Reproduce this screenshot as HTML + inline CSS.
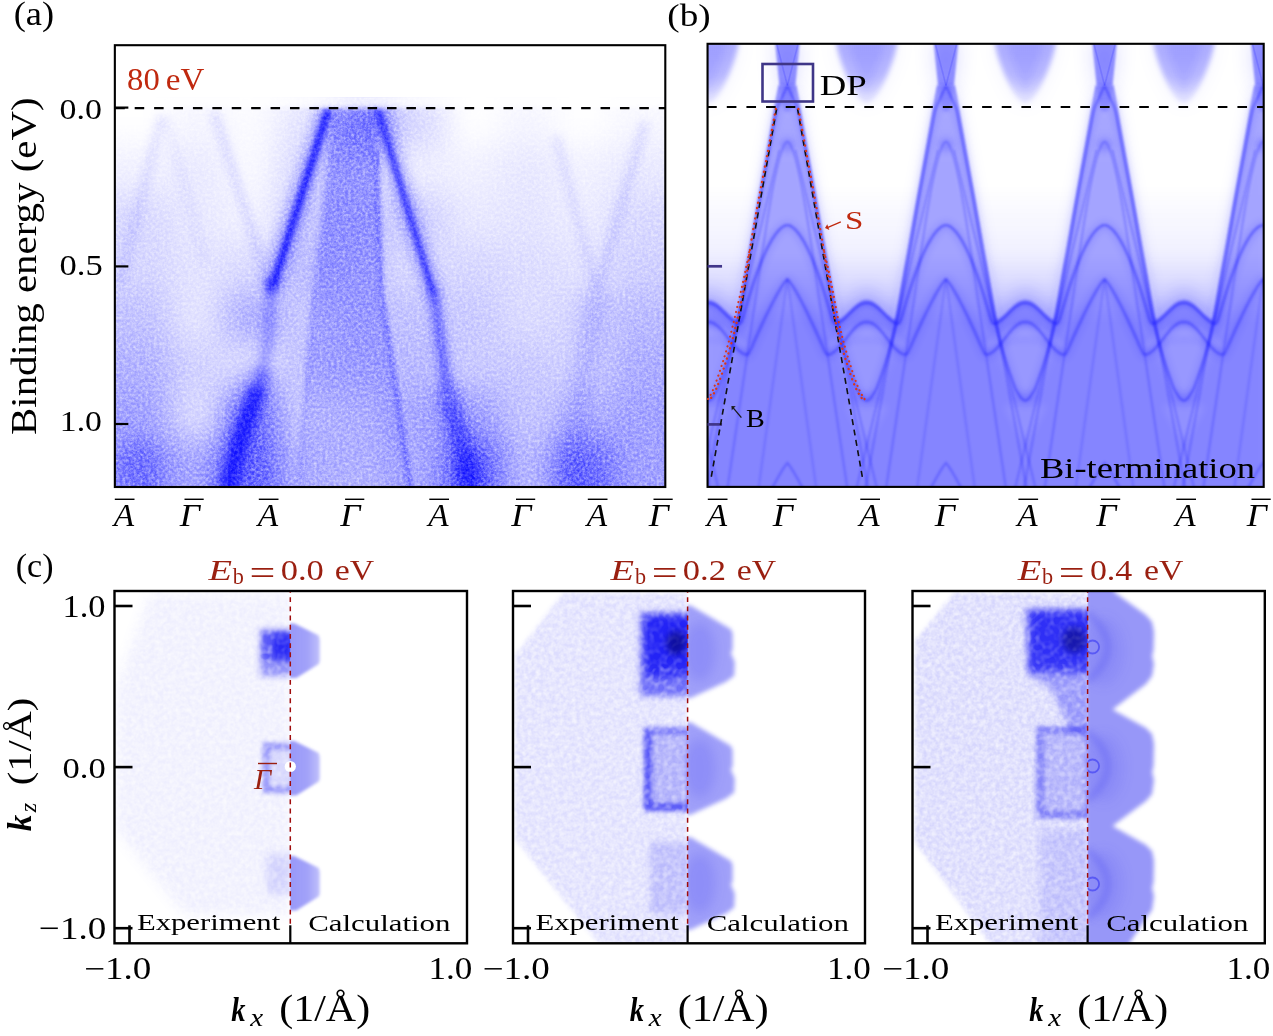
<!DOCTYPE html>
<html><head><meta charset="utf-8"><title>ARPES figure</title>
<style>html,body{margin:0;padding:0;background:#fff;overflow:hidden}svg{display:block}</style>
</head><body><svg width="1273" height="1036" viewBox="0 0 1273 1036" style="font-family:'Liberation Serif', 'DejaVu Serif', serif"><defs><filter id="bl0_5" filterUnits="userSpaceOnUse" x="-50" y="-50" width="1400" height="1150" color-interpolation-filters="sRGB"><feGaussianBlur stdDeviation="0.5"/></filter><filter id="bl1" filterUnits="userSpaceOnUse" x="-50" y="-50" width="1400" height="1150" color-interpolation-filters="sRGB"><feGaussianBlur stdDeviation="1"/></filter><filter id="bl1_5" filterUnits="userSpaceOnUse" x="-50" y="-50" width="1400" height="1150" color-interpolation-filters="sRGB"><feGaussianBlur stdDeviation="1.5"/></filter><filter id="bl2" filterUnits="userSpaceOnUse" x="-50" y="-50" width="1400" height="1150" color-interpolation-filters="sRGB"><feGaussianBlur stdDeviation="2"/></filter><filter id="bl2_5" filterUnits="userSpaceOnUse" x="-50" y="-50" width="1400" height="1150" color-interpolation-filters="sRGB"><feGaussianBlur stdDeviation="2.5"/></filter><filter id="bl3" filterUnits="userSpaceOnUse" x="-50" y="-50" width="1400" height="1150" color-interpolation-filters="sRGB"><feGaussianBlur stdDeviation="3"/></filter><filter id="bl4" filterUnits="userSpaceOnUse" x="-50" y="-50" width="1400" height="1150" color-interpolation-filters="sRGB"><feGaussianBlur stdDeviation="4"/></filter><filter id="bl5" filterUnits="userSpaceOnUse" x="-50" y="-50" width="1400" height="1150" color-interpolation-filters="sRGB"><feGaussianBlur stdDeviation="5"/></filter><filter id="bl6" filterUnits="userSpaceOnUse" x="-50" y="-50" width="1400" height="1150" color-interpolation-filters="sRGB"><feGaussianBlur stdDeviation="6"/></filter><filter id="bl7" filterUnits="userSpaceOnUse" x="-50" y="-50" width="1400" height="1150" color-interpolation-filters="sRGB"><feGaussianBlur stdDeviation="7"/></filter><filter id="bl8" filterUnits="userSpaceOnUse" x="-50" y="-50" width="1400" height="1150" color-interpolation-filters="sRGB"><feGaussianBlur stdDeviation="8"/></filter><filter id="bl10" filterUnits="userSpaceOnUse" x="-50" y="-50" width="1400" height="1150" color-interpolation-filters="sRGB"><feGaussianBlur stdDeviation="10"/></filter><filter id="bl12" filterUnits="userSpaceOnUse" x="-50" y="-50" width="1400" height="1150" color-interpolation-filters="sRGB"><feGaussianBlur stdDeviation="12"/></filter><filter id="bl15" filterUnits="userSpaceOnUse" x="-50" y="-50" width="1400" height="1150" color-interpolation-filters="sRGB"><feGaussianBlur stdDeviation="15"/></filter><filter id="bl16" filterUnits="userSpaceOnUse" x="-50" y="-50" width="1400" height="1150" color-interpolation-filters="sRGB"><feGaussianBlur stdDeviation="16"/></filter><filter id="bl20" filterUnits="userSpaceOnUse" x="-50" y="-50" width="1400" height="1150" color-interpolation-filters="sRGB"><feGaussianBlur stdDeviation="20"/></filter><filter id="bl25" filterUnits="userSpaceOnUse" x="-50" y="-50" width="1400" height="1150" color-interpolation-filters="sRGB"><feGaussianBlur stdDeviation="25"/></filter><linearGradient id="gBlob" x1="0" y1="0" x2="0" y2="1"><stop offset="0" stop-color="#1414ff" stop-opacity="0.34"/><stop offset="0.55" stop-color="#1414ff" stop-opacity="0.27"/><stop offset="1" stop-color="#1414ff" stop-opacity="0.08"/></linearGradient><linearGradient id="gHaze" gradientUnits="userSpaceOnUse" x1="0" y1="185" x2="0" y2="318"><stop offset="0" stop-color="#1414ff" stop-opacity="0"/><stop offset="0.5" stop-color="#1414ff" stop-opacity="0.06"/><stop offset="1" stop-color="#1414ff" stop-opacity="0.26"/></linearGradient><linearGradient id="gLamW" gradientUnits="userSpaceOnUse" x1="0" y1="85" x2="0" y2="325"><stop offset="0" stop-color="#fff" stop-opacity="0.27"/><stop offset="0.7" stop-color="#fff" stop-opacity="0.25"/><stop offset="1" stop-color="#fff" stop-opacity="0"/></linearGradient><clipPath id="clipB"><rect x="707.55" y="43.8" width="556.1500000000001" height="443.09999999999997"/></clipPath><clipPath id="clipA"><rect x="114.85" y="45.2" width="550.4499999999999" height="441.8"/></clipPath><linearGradient id="gCol" x1="0" y1="0" x2="0" y2="1" gradientUnits="objectBoundingBox"><stop offset="0" stop-color="#0000ff" stop-opacity="0.26"/><stop offset="0.12" stop-color="#0000ff" stop-opacity="0.42"/><stop offset="0.45" stop-color="#0000ff" stop-opacity="0.30"/><stop offset="1" stop-color="#0000ff" stop-opacity="0.10"/></linearGradient><filter id="noiseA" filterUnits="userSpaceOnUse" x="100" y="90" width="580" height="410" color-interpolation-filters="sRGB"><feTurbulence type="fractalNoise" baseFrequency="0.35" numOctaves="3" seed="11" result="t"/><feGaussianBlur stdDeviation="0.75"/><feColorMatrix type="matrix" values="0 0 0 0 1  0 0 0 0 1  0 0 0 0 1  0.9 0 0 0 -0.31"/></filter><filter id="noiseA2" filterUnits="userSpaceOnUse" x="100" y="90" width="580" height="410" color-interpolation-filters="sRGB"><feTurbulence type="fractalNoise" baseFrequency="0.35" numOctaves="3" seed="23" result="t"/><feGaussianBlur stdDeviation="0.75"/><feColorMatrix type="matrix" values="0 0 0 0 1  0 0 0 0 1  0 0 0 0 1  0.45 0 0 0 -0.16"/></filter><clipPath id="clipAD"><rect x="114.85" y="97.5" width="550.4499999999999" height="389.5"/></clipPath><linearGradient id="gC1" x1="0" y1="0" x2="1" y2="0"><stop offset="0" stop-color="#3030f2" stop-opacity="0.50"/><stop offset="0.6" stop-color="#3030f2" stop-opacity="0.45"/><stop offset="1" stop-color="#3030f2" stop-opacity="0.30"/></linearGradient><clipPath id="clipC1L"><rect x="114.5" y="591.0" width="175.8" height="352.29999999999995"/></clipPath><clipPath id="clipC1R"><rect x="290.3" y="591.0" width="176.7" height="352.29999999999995"/></clipPath><clipPath id="clipC2L"><rect x="513.0" y="591.0" width="174.60000000000002" height="352.29999999999995"/></clipPath><clipPath id="clipC2R"><rect x="687.6" y="591.0" width="177.39999999999998" height="352.29999999999995"/></clipPath><clipPath id="clipC3L"><rect x="912.5" y="591.0" width="175.0999999999999" height="352.29999999999995"/></clipPath><clipPath id="clipC3R"><rect x="1087.6" y="591.0" width="177.20000000000005" height="352.29999999999995"/></clipPath><filter id="noiseC" filterUnits="userSpaceOnUse" x="100" y="580" width="1180" height="380" color-interpolation-filters="sRGB"><feTurbulence type="fractalNoise" baseFrequency="0.25" numOctaves="2" seed="5" result="t"/><feGaussianBlur stdDeviation="0.6"/><feColorMatrix type="matrix" values="0 0 0 0 1  0 0 0 0 1  0 0 0 0 1  1.0 0 0 0 -0.30"/></filter><filter id="noiseC2" filterUnits="userSpaceOnUse" x="100" y="580" width="1180" height="380" color-interpolation-filters="sRGB"><feTurbulence type="fractalNoise" baseFrequency="0.22" numOctaves="2" seed="9" result="t"/><feGaussianBlur stdDeviation="0.8"/><feColorMatrix type="matrix" values="0 0 0 0 1  0 0 0 0 1  0 0 0 0 1  1.4 0 0 0 -0.62"/></filter></defs><rect width="1273" height="1036" fill="#fff"/><g clip-path="url(#clipAD)"><g filter="url(#bl16)"><rect x="55" y="97" width="115" height="49" fill="#0000ff" fill-opacity="0.000"/><rect x="170" y="97" width="55" height="49" fill="#0000ff" fill-opacity="0.052"/><rect x="225" y="97" width="55" height="49" fill="#0000ff" fill-opacity="0.018"/><rect x="280" y="97" width="55" height="49" fill="#0000ff" fill-opacity="0.140"/><rect x="335" y="97" width="55" height="49" fill="#0000ff" fill-opacity="0.552"/><rect x="390" y="97" width="55" height="49" fill="#0000ff" fill-opacity="0.192"/><rect x="445" y="97" width="55" height="49" fill="#0000ff" fill-opacity="0.000"/><rect x="500" y="97" width="55" height="49" fill="#0000ff" fill-opacity="0.052"/><rect x="555" y="97" width="55" height="49" fill="#0000ff" fill-opacity="0.001"/><rect x="610" y="97" width="115" height="49" fill="#0000ff" fill-opacity="0.039"/><rect x="55" y="146" width="115" height="49" fill="#0000ff" fill-opacity="0.072"/><rect x="170" y="146" width="55" height="49" fill="#0000ff" fill-opacity="0.103"/><rect x="225" y="146" width="55" height="49" fill="#0000ff" fill-opacity="0.030"/><rect x="280" y="146" width="55" height="49" fill="#0000ff" fill-opacity="0.200"/><rect x="335" y="146" width="55" height="49" fill="#0000ff" fill-opacity="0.172"/><rect x="390" y="146" width="55" height="49" fill="#0000ff" fill-opacity="0.082"/><rect x="445" y="146" width="55" height="49" fill="#0000ff" fill-opacity="0.069"/><rect x="500" y="146" width="55" height="49" fill="#0000ff" fill-opacity="0.114"/><rect x="555" y="146" width="55" height="49" fill="#0000ff" fill-opacity="0.068"/><rect x="610" y="146" width="115" height="49" fill="#0000ff" fill-opacity="0.107"/><rect x="55" y="195" width="115" height="49" fill="#0000ff" fill-opacity="0.189"/><rect x="170" y="195" width="55" height="49" fill="#0000ff" fill-opacity="0.111"/><rect x="225" y="195" width="55" height="49" fill="#0000ff" fill-opacity="0.064"/><rect x="280" y="195" width="55" height="49" fill="#0000ff" fill-opacity="0.269"/><rect x="335" y="195" width="55" height="49" fill="#0000ff" fill-opacity="0.277"/><rect x="390" y="195" width="55" height="49" fill="#0000ff" fill-opacity="0.241"/><rect x="445" y="195" width="55" height="49" fill="#0000ff" fill-opacity="0.108"/><rect x="500" y="195" width="55" height="49" fill="#0000ff" fill-opacity="0.128"/><rect x="555" y="195" width="55" height="49" fill="#0000ff" fill-opacity="0.092"/><rect x="610" y="195" width="115" height="49" fill="#0000ff" fill-opacity="0.183"/><rect x="55" y="244" width="115" height="49" fill="#0000ff" fill-opacity="0.200"/><rect x="170" y="244" width="55" height="49" fill="#0000ff" fill-opacity="0.139"/><rect x="225" y="244" width="55" height="49" fill="#0000ff" fill-opacity="0.182"/><rect x="280" y="244" width="55" height="49" fill="#0000ff" fill-opacity="0.336"/><rect x="335" y="244" width="55" height="49" fill="#0000ff" fill-opacity="0.292"/><rect x="390" y="244" width="55" height="49" fill="#0000ff" fill-opacity="0.171"/><rect x="445" y="244" width="55" height="49" fill="#0000ff" fill-opacity="0.195"/><rect x="500" y="244" width="55" height="49" fill="#0000ff" fill-opacity="0.166"/><rect x="555" y="244" width="55" height="49" fill="#0000ff" fill-opacity="0.140"/><rect x="610" y="244" width="115" height="49" fill="#0000ff" fill-opacity="0.226"/><rect x="55" y="293" width="115" height="49" fill="#0000ff" fill-opacity="0.296"/><rect x="170" y="293" width="55" height="49" fill="#0000ff" fill-opacity="0.125"/><rect x="225" y="293" width="55" height="49" fill="#0000ff" fill-opacity="0.407"/><rect x="280" y="293" width="55" height="49" fill="#0000ff" fill-opacity="0.260"/><rect x="335" y="293" width="55" height="49" fill="#0000ff" fill-opacity="0.320"/><rect x="390" y="293" width="55" height="49" fill="#0000ff" fill-opacity="0.295"/><rect x="445" y="293" width="55" height="49" fill="#0000ff" fill-opacity="0.258"/><rect x="500" y="293" width="55" height="49" fill="#0000ff" fill-opacity="0.168"/><rect x="555" y="293" width="55" height="49" fill="#0000ff" fill-opacity="0.213"/><rect x="610" y="293" width="115" height="49" fill="#0000ff" fill-opacity="0.328"/><rect x="55" y="342" width="115" height="49" fill="#0000ff" fill-opacity="0.367"/><rect x="170" y="342" width="55" height="49" fill="#0000ff" fill-opacity="0.224"/><rect x="225" y="342" width="55" height="49" fill="#0000ff" fill-opacity="0.154"/><rect x="280" y="342" width="55" height="49" fill="#0000ff" fill-opacity="0.302"/><rect x="335" y="342" width="55" height="49" fill="#0000ff" fill-opacity="0.340"/><rect x="390" y="342" width="55" height="49" fill="#0000ff" fill-opacity="0.343"/><rect x="445" y="342" width="55" height="49" fill="#0000ff" fill-opacity="0.256"/><rect x="500" y="342" width="55" height="49" fill="#0000ff" fill-opacity="0.258"/><rect x="555" y="342" width="55" height="49" fill="#0000ff" fill-opacity="0.211"/><rect x="610" y="342" width="115" height="49" fill="#0000ff" fill-opacity="0.395"/><rect x="55" y="391" width="115" height="49" fill="#0000ff" fill-opacity="0.453"/><rect x="170" y="391" width="55" height="49" fill="#0000ff" fill-opacity="0.168"/><rect x="225" y="391" width="55" height="49" fill="#0000ff" fill-opacity="0.660"/><rect x="280" y="391" width="55" height="49" fill="#0000ff" fill-opacity="0.236"/><rect x="335" y="391" width="55" height="49" fill="#0000ff" fill-opacity="0.265"/><rect x="390" y="391" width="55" height="49" fill="#0000ff" fill-opacity="0.443"/><rect x="445" y="391" width="55" height="49" fill="#0000ff" fill-opacity="0.465"/><rect x="500" y="391" width="55" height="49" fill="#0000ff" fill-opacity="0.277"/><rect x="555" y="391" width="55" height="49" fill="#0000ff" fill-opacity="0.362"/><rect x="610" y="391" width="115" height="49" fill="#0000ff" fill-opacity="0.450"/><rect x="55" y="440" width="115" height="109" fill="#0000ff" fill-opacity="0.540"/><rect x="170" y="440" width="55" height="109" fill="#0000ff" fill-opacity="0.438"/><rect x="225" y="440" width="55" height="109" fill="#0000ff" fill-opacity="0.763"/><rect x="280" y="440" width="55" height="109" fill="#0000ff" fill-opacity="0.323"/><rect x="335" y="440" width="55" height="109" fill="#0000ff" fill-opacity="0.292"/><rect x="390" y="440" width="55" height="109" fill="#0000ff" fill-opacity="0.410"/><rect x="445" y="440" width="55" height="109" fill="#0000ff" fill-opacity="0.811"/><rect x="500" y="440" width="55" height="109" fill="#0000ff" fill-opacity="0.343"/><rect x="555" y="440" width="55" height="109" fill="#0000ff" fill-opacity="0.754"/><rect x="610" y="440" width="115" height="109" fill="#0000ff" fill-opacity="0.460"/></g><ellipse cx="140.0" cy="470.0" rx="22" ry="30" fill="#0000ff" fill-opacity="0.3" filter="url(#bl8)"/><path d="M333,109 L376,109 L381,293 L411,492 L297,492 L313,293 Z" fill="url(#gCol)" filter="url(#bl3)"/><path d="M376.0,150.0 L381.0,293.0 L396.0,391.0 L411.0,492.0" fill="none" stroke="#0000ff" stroke-opacity="0.42" stroke-width="5" stroke-linejoin="round" filter="url(#bl2)"/><path d="M314.0,290.0 L306.0,391.0 L298.0,492.0" fill="none" stroke="#0000ff" stroke-opacity="0.14" stroke-width="4" stroke-linejoin="round" filter="url(#bl2)"/><line x1="214.0" y1="112.0" x2="269.0" y2="286.0" stroke="#0000ff" stroke-opacity="0.13" stroke-width="9" stroke-linecap="butt" filter="url(#bl4)"/><line x1="162.0" y1="116.0" x2="119.0" y2="285.0" stroke="#0000ff" stroke-opacity="0.1" stroke-width="10" stroke-linecap="butt" filter="url(#bl4)"/><line x1="166.0" y1="118.0" x2="205.0" y2="262.0" stroke="#0000ff" stroke-opacity="0.05" stroke-width="10" stroke-linecap="butt" filter="url(#bl5)"/><line x1="645.0" y1="122.0" x2="598.0" y2="290.0" stroke="#0000ff" stroke-opacity="0.13" stroke-width="9" stroke-linecap="butt" filter="url(#bl4)"/><line x1="556.0" y1="136.0" x2="596.0" y2="290.0" stroke="#0000ff" stroke-opacity="0.1" stroke-width="9" stroke-linecap="butt" filter="url(#bl4)"/><line x1="597.0" y1="292.0" x2="566.0" y2="492.0" stroke="#0000ff" stroke-opacity="0.18" stroke-width="24" stroke-linecap="butt" filter="url(#bl8)"/><line x1="328.0" y1="110.0" x2="272.0" y2="289.0" stroke="#0000ff" stroke-opacity="0.3" stroke-width="22" stroke-linecap="butt" filter="url(#bl5)"/><line x1="378.0" y1="110.0" x2="434.0" y2="297.0" stroke="#0000ff" stroke-opacity="0.26" stroke-width="22" stroke-linecap="butt" filter="url(#bl5)"/><path d="M262.0,370.0 L240.0,440.0 L225.0,492.0" fill="none" stroke="#0000ff" stroke-opacity="0.25" stroke-width="34" stroke-linejoin="round" filter="url(#bl8)"/><path d="M434.0,297.0 L440.0,340.0 L447.0,391.0" fill="none" stroke="#0000ff" stroke-opacity="0.3" stroke-width="14" stroke-linejoin="round" filter="url(#bl4)"/><path d="M446.0,388.0 L460.0,440.0 L472.0,492.0" fill="none" stroke="#0000ff" stroke-opacity="0.4" stroke-width="24" stroke-linejoin="round" filter="url(#bl6)"/><rect x="114.85" y="97.5" width="550.4499999999999" height="389.5" fill="#fff" filter="url(#noiseA)"/><line x1="328.5" y1="109.0" x2="273.0" y2="286.0" stroke="#0000ff" stroke-opacity="0.88" stroke-width="7.5" stroke-linecap="butt" filter="url(#bl2_5)"/><line x1="377.5" y1="109.0" x2="433.0" y2="293.0" stroke="#0000ff" stroke-opacity="0.75" stroke-width="6.5" stroke-linecap="butt" filter="url(#bl2_5)"/><ellipse cx="271.0" cy="287.0" rx="6" ry="9" fill="#0000ff" fill-opacity="0.6" filter="url(#bl3)"/><ellipse cx="434.0" cy="296.0" rx="5" ry="8" fill="#0000ff" fill-opacity="0.45" filter="url(#bl3)"/><path d="M271.0,292.0 L268.0,340.0 L262.0,375.0" fill="none" stroke="#0000ff" stroke-opacity="0.28" stroke-width="12" stroke-linejoin="round" filter="url(#bl4)"/><path d="M264.0,372.0 L257.0,392.0" fill="none" stroke="#0000ff" stroke-opacity="0.4" stroke-width="14" stroke-linejoin="round" filter="url(#bl4)"/><path d="M258.0,388.0 L240.0,440.0 L227.0,492.0" fill="none" stroke="#0000ff" stroke-opacity="0.8" stroke-width="17" stroke-linejoin="round" filter="url(#bl4)"/><path d="M435.0,300.0 L440.0,340.0 L448.0,395.0" fill="none" stroke="#0000ff" stroke-opacity="0.32" stroke-width="8" stroke-linejoin="round" filter="url(#bl3)"/><path d="M448.0,400.0 L462.0,445.0 L472.0,492.0" fill="none" stroke="#0000ff" stroke-opacity="0.35" stroke-width="13" stroke-linejoin="round" filter="url(#bl4)"/><ellipse cx="468.0" cy="472.0" rx="11" ry="18" fill="#0000ff" fill-opacity="0.4" filter="url(#bl6)"/><rect x="114.85" y="97.5" width="550.4499999999999" height="389.5" fill="#fff" filter="url(#noiseA2)"/><rect x="114.85" y="92.5" width="550.4499999999999" height="15" fill="#fff" fill-opacity="0.75" filter="url(#bl2)"/></g><g clip-path="url(#clipB)"><path d="M697.5,304.5 L698.5,303.7 L699.5,303.0 L700.5,302.3 L701.5,301.7 L702.5,301.2 L703.5,300.8 L704.5,300.5 L705.5,300.2 L706.5,300.1 L707.5,300.0 L708.5,300.0 L709.5,300.1 L710.5,300.2 L711.5,300.4 L712.5,300.7 L713.5,301.2 L714.5,301.7 L715.5,302.2 L716.5,302.9 L717.5,303.6 L718.5,304.4 L719.5,305.2 L720.5,306.1 L721.5,307.1 L722.5,308.0 L723.5,309.0 L724.5,310.0 L725.5,311.0 L726.5,312.0 L727.5,313.0 L728.5,314.0 L729.5,314.9 L730.5,315.8 L731.5,316.6 L732.5,317.4 L733.5,318.1 L734.5,318.8 L735.5,319.4 L736.5,319.3 L737.5,317.1 L738.5,312.4 L739.5,306.9 L740.5,301.3 L741.5,295.8 L742.5,290.2 L743.5,284.7 L744.5,279.1 L745.5,273.6 L746.5,268.0 L747.5,262.4 L748.5,256.9 L749.5,251.3 L750.5,245.8 L751.5,240.2 L752.5,234.7 L753.5,229.1 L754.5,223.6 L755.5,218.0 L756.5,212.4 L757.5,206.9 L758.5,201.3 L759.5,195.8 L760.5,190.2 L761.5,184.7 L762.5,179.1 L763.5,173.6 L764.5,168.0 L765.5,162.4 L766.5,156.9 L767.5,151.3 L768.5,145.8 L769.5,140.2 L770.5,134.7 L771.5,129.1 L772.5,123.6 L773.5,118.0 L774.5,112.4 L775.5,106.9 L776.5,101.3 L777.5,95.8 L778.5,90.4 L779.5,86.7 L780.5,85.5 L781.5,85.5 L782.5,85.5 L783.5,85.5 L784.5,85.5 L785.5,85.5 L786.5,85.5 L787.5,85.5 L788.5,85.5 L789.5,85.5 L790.5,85.5 L791.5,85.5 L792.5,85.5 L793.5,85.5 L794.5,85.7 L795.5,87.5 L796.5,91.9 L797.5,97.4 L798.5,103.0 L799.5,108.6 L800.5,114.1 L801.5,119.7 L802.5,125.2 L803.5,130.8 L804.5,136.3 L805.5,141.9 L806.5,147.4 L807.5,153.0 L808.5,158.6 L809.5,164.1 L810.5,169.7 L811.5,175.2 L812.5,180.8 L813.5,186.3 L814.5,191.9 L815.5,197.4 L816.5,203.0 L817.5,208.6 L818.5,214.1 L819.5,219.7 L820.5,225.2 L821.5,230.8 L822.5,236.3 L823.5,241.9 L824.5,247.4 L825.5,253.0 L826.5,258.6 L827.5,264.1 L828.5,269.7 L829.5,275.2 L830.5,280.8 L831.5,286.3 L832.5,291.9 L833.5,297.4 L834.5,303.0 L835.5,308.6 L836.5,314.1 L837.5,318.3 L838.5,319.6 L839.5,319.2 L840.5,318.6 L841.5,317.9 L842.5,317.2 L843.5,316.4 L844.5,315.5 L845.5,314.6 L846.5,313.7 L847.5,312.7 L848.5,311.7 L849.5,310.7 L850.5,309.7 L851.5,308.7 L852.5,307.7 L853.5,306.8 L854.5,305.9 L855.5,305.0 L856.5,304.2 L857.5,303.4 L858.5,302.7 L859.5,302.1 L860.5,301.5 L861.5,301.0 L862.5,300.6 L863.5,300.3 L864.5,300.1 L865.5,300.0 L866.5,300.0 L867.5,300.0 L868.5,300.1 L869.5,300.3 L870.5,300.5 L871.5,300.9 L872.5,301.3 L873.5,301.9 L874.5,302.5 L875.5,303.2 L876.5,303.9 L877.5,304.7 L878.5,305.6 L879.5,306.5 L880.5,307.5 L881.5,308.4 L882.5,309.4 L883.5,310.4 L884.5,311.4 L885.5,312.4 L886.5,313.4 L887.5,314.4 L888.5,315.3 L889.5,316.1 L890.5,317.0 L891.5,317.7 L892.5,318.4 L893.5,319.0 L894.5,319.6 L895.5,318.9 L896.5,315.5 L897.5,310.2 L898.5,304.7 L899.5,299.1 L900.5,293.6 L901.5,288.0 L902.5,282.4 L903.5,276.9 L904.5,271.3 L905.5,265.8 L906.5,260.2 L907.5,254.7 L908.5,249.1 L909.5,243.6 L910.5,238.0 L911.5,232.4 L912.5,226.9 L913.5,221.3 L914.5,215.8 L915.5,210.2 L916.5,204.7 L917.5,199.1 L918.5,193.6 L919.5,188.0 L920.5,182.4 L921.5,176.9 L922.5,171.3 L923.5,165.8 L924.5,160.2 L925.5,154.7 L926.5,149.1 L927.5,143.6 L928.5,138.0 L929.5,132.4 L930.5,126.9 L931.5,121.3 L932.5,115.8 L933.5,110.2 L934.5,104.7 L935.5,99.1 L936.5,93.6 L937.5,88.8 L938.5,86.1 L939.5,85.5 L940.5,85.5 L941.5,85.5 L942.5,85.5 L943.5,85.5 L944.5,85.5 L945.5,85.5 L946.5,85.5 L947.5,85.5 L948.5,85.5 L949.5,85.5 L950.5,85.5 L951.5,85.5 L952.5,85.5 L953.5,86.3 L954.5,89.2 L955.5,94.1 L956.5,99.7 L957.5,105.2 L958.5,110.8 L959.5,116.3 L960.5,121.9 L961.5,127.4 L962.5,133.0 L963.5,138.6 L964.5,144.1 L965.5,149.7 L966.5,155.2 L967.5,160.8 L968.5,166.3 L969.5,171.9 L970.5,177.4 L971.5,183.0 L972.5,188.6 L973.5,194.1 L974.5,199.7 L975.5,205.2 L976.5,210.8 L977.5,216.3 L978.5,221.9 L979.5,227.4 L980.5,233.0 L981.5,238.6 L982.5,244.1 L983.5,249.7 L984.5,255.2 L985.5,260.8 L986.5,266.3 L987.5,271.9 L988.5,277.4 L989.5,283.0 L990.5,288.6 L991.5,294.1 L992.5,299.7 L993.5,305.2 L994.5,310.8 L995.5,315.9 L996.5,319.0 L997.5,319.5 L998.5,319.0 L999.5,318.3 L1000.5,317.6 L1001.5,316.9 L1002.5,316.1 L1003.5,315.2 L1004.5,314.3 L1005.5,313.3 L1006.5,312.3 L1007.5,311.3 L1008.5,310.3 L1009.5,309.3 L1010.5,308.3 L1011.5,307.4 L1012.5,306.4 L1013.5,305.5 L1014.5,304.7 L1015.5,303.8 L1016.5,303.1 L1017.5,302.4 L1018.5,301.8 L1019.5,301.3 L1020.5,300.9 L1021.5,300.5 L1022.5,300.3 L1023.5,300.1 L1024.5,300.0 L1025.5,300.0 L1026.5,300.0 L1027.5,300.2 L1028.5,300.4 L1029.5,300.7 L1030.5,301.1 L1031.5,301.6 L1032.5,302.1 L1033.5,302.8 L1034.5,303.5 L1035.5,304.2 L1036.5,305.1 L1037.5,306.0 L1038.5,306.9 L1039.5,307.8 L1040.5,308.8 L1041.5,309.8 L1042.5,310.8 L1043.5,311.8 L1044.5,312.8 L1045.5,313.8 L1046.5,314.7 L1047.5,315.6 L1048.5,316.5 L1049.5,317.3 L1050.5,318.0 L1051.5,318.7 L1052.5,319.3 L1053.5,319.5 L1054.5,317.9 L1055.5,313.6 L1056.5,308.0 L1057.5,302.4 L1058.5,296.9 L1059.5,291.3 L1060.5,285.8 L1061.5,280.2 L1062.5,274.7 L1063.5,269.1 L1064.5,263.6 L1065.5,258.0 L1066.5,252.4 L1067.5,246.9 L1068.5,241.3 L1069.5,235.8 L1070.5,230.2 L1071.5,224.7 L1072.5,219.1 L1073.5,213.6 L1074.5,208.0 L1075.5,202.4 L1076.5,196.9 L1077.5,191.3 L1078.5,185.8 L1079.5,180.2 L1080.5,174.7 L1081.5,169.1 L1082.5,163.6 L1083.5,158.0 L1084.5,152.4 L1085.5,146.9 L1086.5,141.3 L1087.5,135.8 L1088.5,130.2 L1089.5,124.7 L1090.5,119.1 L1091.5,113.6 L1092.5,108.0 L1093.5,102.4 L1094.5,96.9 L1095.5,91.3 L1096.5,87.1 L1097.5,85.6 L1098.5,85.5 L1099.5,85.5 L1100.5,85.5 L1101.5,85.5 L1102.5,85.5 L1103.5,85.5 L1104.5,85.5 L1105.5,85.5 L1106.5,85.5 L1107.5,85.5 L1108.5,85.5 L1109.5,85.5 L1110.5,85.5 L1111.5,85.5 L1112.5,86.8 L1113.5,90.8 L1114.5,96.3 L1115.5,101.9 L1116.5,107.4 L1117.5,113.0 L1118.5,118.6 L1119.5,124.1 L1120.5,129.7 L1121.5,135.2 L1122.5,140.8 L1123.5,146.3 L1124.5,151.9 L1125.5,157.4 L1126.5,163.0 L1127.5,168.6 L1128.5,174.1 L1129.5,179.7 L1130.5,185.2 L1131.5,190.8 L1132.5,196.3 L1133.5,201.9 L1134.5,207.4 L1135.5,213.0 L1136.5,218.6 L1137.5,224.1 L1138.5,229.7 L1139.5,235.2 L1140.5,240.8 L1141.5,246.3 L1142.5,251.9 L1143.5,257.4 L1144.5,263.0 L1145.5,268.6 L1146.5,274.1 L1147.5,279.7 L1148.5,285.2 L1149.5,290.8 L1150.5,296.3 L1151.5,301.9 L1152.5,307.4 L1153.5,313.0 L1154.5,317.5 L1155.5,319.4 L1156.5,319.3 L1157.5,318.7 L1158.5,318.1 L1159.5,317.3 L1160.5,316.6 L1161.5,315.7 L1162.5,314.8 L1163.5,313.9 L1164.5,312.9 L1165.5,311.9 L1166.5,310.9 L1167.5,309.9 L1168.5,308.9 L1169.5,307.9 L1170.5,307.0 L1171.5,306.0 L1172.5,305.2 L1173.5,304.3 L1174.5,303.5 L1175.5,302.8 L1176.5,302.2 L1177.5,301.6 L1178.5,301.1 L1179.5,300.7 L1180.5,300.4 L1181.5,300.2 L1182.5,300.1 L1183.5,300.0 L1184.5,300.0 L1185.5,300.1 L1186.5,300.2 L1187.5,300.5 L1188.5,300.8 L1189.5,301.3 L1190.5,301.8 L1191.5,302.4 L1192.5,303.0 L1193.5,303.8 L1194.5,304.6 L1195.5,305.4 L1196.5,306.3 L1197.5,307.3 L1198.5,308.2 L1199.5,309.2 L1200.5,310.2 L1201.5,311.2 L1202.5,312.2 L1203.5,313.2 L1204.5,314.2 L1205.5,315.1 L1206.5,316.0 L1207.5,316.8 L1208.5,317.6 L1209.5,318.3 L1210.5,318.9 L1211.5,319.5 L1212.5,319.1 L1213.5,316.3 L1214.5,311.3 L1215.5,305.8 L1216.5,300.2 L1217.5,294.7 L1218.5,289.1 L1219.5,283.6 L1220.5,278.0 L1221.5,272.4 L1222.5,266.9 L1223.5,261.3 L1224.5,255.8 L1225.5,250.2 L1226.5,244.7 L1227.5,239.1 L1228.5,233.6 L1229.5,228.0 L1230.5,222.4 L1231.5,216.9 L1232.5,211.3 L1233.5,205.8 L1234.5,200.2 L1235.5,194.7 L1236.5,189.1 L1237.5,183.6 L1238.5,178.0 L1239.5,172.4 L1240.5,166.9 L1241.5,161.3 L1242.5,155.8 L1243.5,150.2 L1244.5,144.7 L1245.5,139.1 L1246.5,133.6 L1247.5,128.0 L1248.5,122.4 L1249.5,116.9 L1250.5,111.3 L1251.5,105.8 L1252.5,100.2 L1253.5,94.7 L1254.5,89.6 L1255.5,86.4 L1256.5,85.5 L1257.5,85.5 L1258.5,85.5 L1259.5,85.5 L1260.5,85.5 L1261.5,85.5 L1262.5,85.5 L1263.5,85.5 L1264.5,85.5 L1265.5,85.5 L1266.5,85.5 L1267.5,85.5 L1268.5,85.5 L1269.5,85.5 L1270.5,86.0 L1271.5,88.3 L1272.5,93.0 L1273.5,98.6 L1273.7,496.9 L697.5,496.9 Z" fill="#1414ff" fill-opacity="0.44" filter="url(#bl1_5)"/><path d="M697.5,291.5 L699.5,290.1 L701.5,288.9 L703.5,288.0 L705.5,287.5 L707.5,287.2 L709.5,287.3 L711.5,287.7 L713.5,288.4 L715.5,289.4 L717.5,290.8 L719.5,292.4 L721.5,294.2 L723.5,296.1 L725.5,298.0 L727.5,299.9 L729.5,301.8 L731.5,303.5 L733.5,304.9 L735.5,305.9 L737.5,305.3 L739.5,301.7 L741.5,294.4 L743.5,284.5 L745.5,273.6 L747.5,262.4 L749.5,251.3 L751.5,240.2 L753.5,229.1 L755.5,218.0 L757.5,206.9 L759.5,195.8 L761.5,184.7 L763.5,173.6 L765.5,162.4 L767.5,151.3 L769.5,140.2 L771.5,129.1 L773.5,118.0 L775.5,107.2 L777.5,97.5 L779.5,90.4 L781.5,86.8 L783.5,85.7 L785.5,85.5 L787.5,85.5 L789.5,85.5 L791.5,85.8 L793.5,87.2 L795.5,91.3 L797.5,98.7 L799.5,108.7 L801.5,119.7 L803.5,130.8 L805.5,141.9 L807.5,153.0 L809.5,164.1 L811.5,175.2 L813.5,186.3 L815.5,197.4 L817.5,208.6 L819.5,219.7 L821.5,230.8 L823.5,241.9 L825.5,253.0 L827.5,264.1 L829.5,275.2 L831.5,286.1 L833.5,295.7 L835.5,302.5 L837.5,305.6 L839.5,305.8 L841.5,304.7 L843.5,303.2 L845.5,301.5 L847.5,299.7 L849.5,297.7 L851.5,295.8 L853.5,293.9 L855.5,292.1 L857.5,290.6 L859.5,289.3 L861.5,288.3 L863.5,287.6 L865.5,287.2 L867.5,287.2 L869.5,287.5 L871.5,288.1 L873.5,289.1 L875.5,290.4 L877.5,291.9 L879.5,293.6 L881.5,295.5 L883.5,297.4 L885.5,299.4 L887.5,301.3 L889.5,303.0 L891.5,304.5 L893.5,305.7 L895.5,305.7 L897.5,303.0 L899.5,296.8 L901.5,287.5 L903.5,276.8 L905.5,265.8 L907.5,254.7 L909.5,243.6 L911.5,232.4 L913.5,221.3 L915.5,210.2 L917.5,199.1 L919.5,188.0 L921.5,176.9 L923.5,165.8 L925.5,154.7 L927.5,143.6 L929.5,132.4 L931.5,121.3 L933.5,110.4 L935.5,100.2 L937.5,92.3 L939.5,87.7 L941.5,85.9 L943.5,85.5 L945.5,85.5 L947.5,85.5 L949.5,85.6 L951.5,86.6 L953.5,89.8 L955.5,96.4 L957.5,105.7 L959.5,116.4 L961.5,127.4 L963.5,138.6 L965.5,149.7 L967.5,160.8 L969.5,171.9 L971.5,183.0 L973.5,194.1 L975.5,205.2 L977.5,216.3 L979.5,227.4 L981.5,238.6 L983.5,249.7 L985.5,260.8 L987.5,271.9 L989.5,282.9 L991.5,292.9 L993.5,300.7 L995.5,304.8 L997.5,305.8 L999.5,305.1 L1001.5,303.7 L1003.5,302.1 L1005.5,300.2 L1007.5,298.3 L1009.5,296.4 L1011.5,294.4 L1013.5,292.6 L1015.5,291.0 L1017.5,289.6 L1019.5,288.5 L1021.5,287.8 L1023.5,287.3 L1025.5,287.2 L1027.5,287.4 L1029.5,287.9 L1031.5,288.8 L1033.5,289.9 L1035.5,291.4 L1037.5,293.1 L1039.5,294.9 L1041.5,296.8 L1043.5,298.8 L1045.5,300.7 L1047.5,302.5 L1049.5,304.1 L1051.5,305.4 L1053.5,305.8 L1055.5,304.0 L1057.5,298.9 L1059.5,290.5 L1061.5,280.1 L1063.5,269.1 L1065.5,258.0 L1067.5,246.9 L1069.5,235.8 L1071.5,224.7 L1073.5,213.6 L1075.5,202.4 L1077.5,191.3 L1079.5,180.2 L1081.5,169.1 L1083.5,158.0 L1085.5,146.9 L1087.5,135.8 L1089.5,124.7 L1091.5,113.6 L1093.5,103.2 L1095.5,94.5 L1097.5,88.9 L1099.5,86.3 L1101.5,85.6 L1103.5,85.5 L1105.5,85.5 L1107.5,85.6 L1109.5,86.3 L1111.5,88.7 L1113.5,94.2 L1115.5,102.7 L1117.5,113.1 L1119.5,124.1 L1121.5,135.2 L1123.5,146.3 L1125.5,157.4 L1127.5,168.6 L1129.5,179.7 L1131.5,190.8 L1133.5,201.9 L1135.5,213.0 L1137.5,224.1 L1139.5,235.2 L1141.5,246.3 L1143.5,257.4 L1145.5,268.6 L1147.5,279.6 L1149.5,290.0 L1151.5,298.5 L1153.5,303.8 L1155.5,305.7 L1157.5,305.4 L1159.5,304.2 L1161.5,302.6 L1163.5,300.8 L1165.5,298.9 L1167.5,296.9 L1169.5,295.0 L1171.5,293.2 L1173.5,291.5 L1175.5,290.0 L1177.5,288.8 L1179.5,288.0 L1181.5,287.4 L1183.5,287.2 L1185.5,287.3 L1187.5,287.7 L1189.5,288.5 L1191.5,289.6 L1193.5,290.9 L1195.5,292.5 L1197.5,294.3 L1199.5,296.3 L1201.5,298.2 L1203.5,300.1 L1205.5,302.0 L1207.5,303.6 L1209.5,305.1 L1211.5,305.8 L1213.5,305.0 L1215.5,301.0 L1217.5,293.4 L1219.5,283.4 L1221.5,272.4 L1223.5,261.3 L1225.5,250.2 L1227.5,239.1 L1229.5,228.0 L1231.5,216.9 L1233.5,205.8 L1235.5,194.7 L1237.5,183.6 L1239.5,172.4 L1241.5,161.3 L1243.5,150.2 L1245.5,139.1 L1247.5,128.0 L1249.5,116.9 L1251.5,106.2 L1253.5,96.7 L1255.5,90.0 L1257.5,86.7 L1259.5,85.6 L1261.5,85.5 L1263.5,85.5 L1265.5,85.5 L1267.5,85.9 L1269.5,87.6 L1271.5,91.8 L1273.5,98.6 L1273.7,496.9 L697.5,496.9 Z" fill="#1414ff" fill-opacity="0.14" filter="url(#bl8)"/><path d="M620.8,87.5 L636.8,87.5 L679.9,325 L577.7,325 Z" fill="url(#gLamW)" filter="url(#bl1_5)"/><path d="M779.4,87.5 L795.4,87.5 L838.5,325 L736.3,325 Z" fill="url(#gLamW)" filter="url(#bl1_5)"/><path d="M938.0,87.5 L954.0,87.5 L997.1,325 L894.9,325 Z" fill="url(#gLamW)" filter="url(#bl1_5)"/><path d="M1096.6,87.5 L1112.6,87.5 L1155.7,325 L1053.5,325 Z" fill="url(#gLamW)" filter="url(#bl1_5)"/><path d="M1255.2,87.5 L1271.2,87.5 L1314.3,325 L1212.1,325 Z" fill="url(#gLamW)" filter="url(#bl1_5)"/><path d="M652.8,170.0 L654.3,170.0 L655.8,170.0 L657.3,170.0 L658.8,170.0 L660.3,170.0 L661.8,170.0 L663.3,170.0 L664.8,170.0 L666.3,170.0 L667.8,170.0 L669.3,170.0 L670.8,170.0 L672.3,170.0 L673.8,170.0 L675.3,170.0 L676.8,170.0 L678.3,170.0 L679.8,170.0 L681.3,170.0 L682.8,170.0 L684.3,170.0 L685.8,170.0 L687.3,170.0 L688.8,170.0 L690.3,170.0 L691.8,170.0 L693.3,170.0 L694.8,170.0 L696.3,170.0 L697.8,170.0 L699.3,170.0 L700.8,170.0 L702.3,170.0 L703.8,170.0 L705.3,170.0 L706.8,170.0 L708.3,170.0 L709.8,170.0 L711.3,170.0 L712.8,170.0 L714.3,170.0 L715.8,170.0 L717.3,170.0 L718.8,170.0 L720.3,170.0 L721.8,170.0 L723.3,170.0 L724.8,170.0 L726.3,170.0 L727.8,170.0 L729.3,170.0 L730.8,170.0 L732.3,170.0 L733.8,170.0 L735.3,170.0 L736.8,170.0 L738.3,170.0 L739.8,170.0 L741.3,170.0 L742.8,170.0 L744.3,170.0 L745.8,170.0 L747.3,170.0 L748.8,170.0 L750.3,170.0 L751.8,170.0 L753.3,170.0 L754.8,170.0 L756.3,170.0 L757.8,170.0 L759.3,170.0 L760.8,170.0 L762.3,170.0 L763.8,170.0 L763.8,170.2 L762.3,178.5 L760.8,186.8 L759.3,195.2 L757.8,203.5 L756.3,211.8 L754.8,220.2 L753.3,228.5 L751.8,236.8 L750.3,245.2 L748.8,253.5 L747.3,261.8 L745.8,270.2 L744.3,278.5 L742.8,286.8 L741.3,295.2 L739.8,303.5 L738.3,311.8 L736.8,320.2 L735.3,321.3 L733.8,320.3 L732.3,319.2 L730.8,318.0 L729.3,316.7 L727.8,315.3 L726.3,313.8 L724.8,312.3 L723.3,310.8 L721.8,309.3 L720.3,307.9 L718.8,306.6 L717.3,305.4 L715.8,304.4 L714.3,303.5 L712.8,302.8 L711.3,302.3 L709.8,302.1 L708.3,302.0 L706.8,302.0 L705.3,302.2 L703.8,302.7 L702.3,303.3 L700.8,304.1 L699.3,305.1 L697.8,306.3 L696.3,307.5 L694.8,308.9 L693.3,310.4 L691.8,311.9 L690.3,313.4 L688.8,314.9 L687.3,316.3 L685.8,317.7 L684.3,318.9 L682.8,320.1 L681.3,321.0 L679.8,321.8 L678.3,314.1 L676.8,305.7 L675.3,297.4 L673.8,289.1 L672.3,280.7 L670.8,272.4 L669.3,264.1 L667.8,255.7 L666.3,247.4 L664.8,239.1 L663.3,230.7 L661.8,222.4 L660.3,214.1 L658.8,205.7 L657.3,197.4 L655.8,189.1 L654.3,180.7 L652.8,172.4 Z" fill="url(#gHaze)" filter="url(#bl3)"/><path d="M811.4,170.0 L812.9,170.0 L814.4,170.0 L815.9,170.0 L817.4,170.0 L818.9,170.0 L820.4,170.0 L821.9,170.0 L823.4,170.0 L824.9,170.0 L826.4,170.0 L827.9,170.0 L829.4,170.0 L830.9,170.0 L832.4,170.0 L833.9,170.0 L835.4,170.0 L836.9,170.0 L838.4,170.0 L839.9,170.0 L841.4,170.0 L842.9,170.0 L844.4,170.0 L845.9,170.0 L847.4,170.0 L848.9,170.0 L850.4,170.0 L851.9,170.0 L853.4,170.0 L854.9,170.0 L856.4,170.0 L857.9,170.0 L859.4,170.0 L860.9,170.0 L862.4,170.0 L863.9,170.0 L865.4,170.0 L866.9,170.0 L868.4,170.0 L869.9,170.0 L871.4,170.0 L872.9,170.0 L874.4,170.0 L875.9,170.0 L877.4,170.0 L878.9,170.0 L880.4,170.0 L881.9,170.0 L883.4,170.0 L884.9,170.0 L886.4,170.0 L887.9,170.0 L889.4,170.0 L890.9,170.0 L892.4,170.0 L893.9,170.0 L895.4,170.0 L896.9,170.0 L898.4,170.0 L899.9,170.0 L901.4,170.0 L902.9,170.0 L904.4,170.0 L905.9,170.0 L907.4,170.0 L908.9,170.0 L910.4,170.0 L911.9,170.0 L913.4,170.0 L914.9,170.0 L916.4,170.0 L917.9,170.0 L919.4,170.0 L920.9,170.0 L922.4,170.0 L922.4,170.2 L920.9,178.5 L919.4,186.8 L917.9,195.2 L916.4,203.5 L914.9,211.8 L913.4,220.2 L911.9,228.5 L910.4,236.8 L908.9,245.2 L907.4,253.5 L905.9,261.8 L904.4,270.2 L902.9,278.5 L901.4,286.8 L899.9,295.2 L898.4,303.5 L896.9,311.8 L895.4,320.2 L893.9,321.3 L892.4,320.3 L890.9,319.2 L889.4,318.0 L887.9,316.7 L886.4,315.3 L884.9,313.8 L883.4,312.3 L881.9,310.8 L880.4,309.3 L878.9,307.9 L877.4,306.6 L875.9,305.4 L874.4,304.4 L872.9,303.5 L871.4,302.8 L869.9,302.3 L868.4,302.1 L866.9,302.0 L865.4,302.0 L863.9,302.2 L862.4,302.7 L860.9,303.3 L859.4,304.1 L857.9,305.1 L856.4,306.3 L854.9,307.5 L853.4,308.9 L851.9,310.4 L850.4,311.9 L848.9,313.4 L847.4,314.9 L845.9,316.3 L844.4,317.7 L842.9,318.9 L841.4,320.1 L839.9,321.0 L838.4,321.8 L836.9,314.1 L835.4,305.7 L833.9,297.4 L832.4,289.1 L830.9,280.7 L829.4,272.4 L827.9,264.1 L826.4,255.7 L824.9,247.4 L823.4,239.1 L821.9,230.7 L820.4,222.4 L818.9,214.1 L817.4,205.7 L815.9,197.4 L814.4,189.1 L812.9,180.7 L811.4,172.4 Z" fill="url(#gHaze)" filter="url(#bl3)"/><path d="M970.0,170.0 L971.5,170.0 L973.0,170.0 L974.5,170.0 L976.0,170.0 L977.5,170.0 L979.0,170.0 L980.5,170.0 L982.0,170.0 L983.5,170.0 L985.0,170.0 L986.5,170.0 L988.0,170.0 L989.5,170.0 L991.0,170.0 L992.5,170.0 L994.0,170.0 L995.5,170.0 L997.0,170.0 L998.5,170.0 L1000.0,170.0 L1001.5,170.0 L1003.0,170.0 L1004.5,170.0 L1006.0,170.0 L1007.5,170.0 L1009.0,170.0 L1010.5,170.0 L1012.0,170.0 L1013.5,170.0 L1015.0,170.0 L1016.5,170.0 L1018.0,170.0 L1019.5,170.0 L1021.0,170.0 L1022.5,170.0 L1024.0,170.0 L1025.5,170.0 L1027.0,170.0 L1028.5,170.0 L1030.0,170.0 L1031.5,170.0 L1033.0,170.0 L1034.5,170.0 L1036.0,170.0 L1037.5,170.0 L1039.0,170.0 L1040.5,170.0 L1042.0,170.0 L1043.5,170.0 L1045.0,170.0 L1046.5,170.0 L1048.0,170.0 L1049.5,170.0 L1051.0,170.0 L1052.5,170.0 L1054.0,170.0 L1055.5,170.0 L1057.0,170.0 L1058.5,170.0 L1060.0,170.0 L1061.5,170.0 L1063.0,170.0 L1064.5,170.0 L1066.0,170.0 L1067.5,170.0 L1069.0,170.0 L1070.5,170.0 L1072.0,170.0 L1073.5,170.0 L1075.0,170.0 L1076.5,170.0 L1078.0,170.0 L1079.5,170.0 L1081.0,170.0 L1081.0,170.2 L1079.5,178.5 L1078.0,186.8 L1076.5,195.2 L1075.0,203.5 L1073.5,211.8 L1072.0,220.2 L1070.5,228.5 L1069.0,236.8 L1067.5,245.2 L1066.0,253.5 L1064.5,261.8 L1063.0,270.2 L1061.5,278.5 L1060.0,286.8 L1058.5,295.2 L1057.0,303.5 L1055.5,311.8 L1054.0,320.2 L1052.5,321.3 L1051.0,320.3 L1049.5,319.2 L1048.0,318.0 L1046.5,316.7 L1045.0,315.3 L1043.5,313.8 L1042.0,312.3 L1040.5,310.8 L1039.0,309.3 L1037.5,307.9 L1036.0,306.6 L1034.5,305.4 L1033.0,304.4 L1031.5,303.5 L1030.0,302.8 L1028.5,302.3 L1027.0,302.1 L1025.5,302.0 L1024.0,302.0 L1022.5,302.2 L1021.0,302.7 L1019.5,303.3 L1018.0,304.1 L1016.5,305.1 L1015.0,306.3 L1013.5,307.5 L1012.0,308.9 L1010.5,310.4 L1009.0,311.9 L1007.5,313.4 L1006.0,314.9 L1004.5,316.3 L1003.0,317.7 L1001.5,318.9 L1000.0,320.1 L998.5,321.0 L997.0,321.8 L995.5,314.1 L994.0,305.7 L992.5,297.4 L991.0,289.1 L989.5,280.7 L988.0,272.4 L986.5,264.1 L985.0,255.7 L983.5,247.4 L982.0,239.1 L980.5,230.7 L979.0,222.4 L977.5,214.1 L976.0,205.7 L974.5,197.4 L973.0,189.1 L971.5,180.7 L970.0,172.4 Z" fill="url(#gHaze)" filter="url(#bl3)"/><path d="M1128.6,170.0 L1130.1,170.0 L1131.6,170.0 L1133.1,170.0 L1134.6,170.0 L1136.1,170.0 L1137.6,170.0 L1139.1,170.0 L1140.6,170.0 L1142.1,170.0 L1143.6,170.0 L1145.1,170.0 L1146.6,170.0 L1148.1,170.0 L1149.6,170.0 L1151.1,170.0 L1152.6,170.0 L1154.1,170.0 L1155.6,170.0 L1157.1,170.0 L1158.6,170.0 L1160.1,170.0 L1161.6,170.0 L1163.1,170.0 L1164.6,170.0 L1166.1,170.0 L1167.6,170.0 L1169.1,170.0 L1170.6,170.0 L1172.1,170.0 L1173.6,170.0 L1175.1,170.0 L1176.6,170.0 L1178.1,170.0 L1179.6,170.0 L1181.1,170.0 L1182.6,170.0 L1184.1,170.0 L1185.6,170.0 L1187.1,170.0 L1188.6,170.0 L1190.1,170.0 L1191.6,170.0 L1193.1,170.0 L1194.6,170.0 L1196.1,170.0 L1197.6,170.0 L1199.1,170.0 L1200.6,170.0 L1202.1,170.0 L1203.6,170.0 L1205.1,170.0 L1206.6,170.0 L1208.1,170.0 L1209.6,170.0 L1211.1,170.0 L1212.6,170.0 L1214.1,170.0 L1215.6,170.0 L1217.1,170.0 L1218.6,170.0 L1220.1,170.0 L1221.6,170.0 L1223.1,170.0 L1224.6,170.0 L1226.1,170.0 L1227.6,170.0 L1229.1,170.0 L1230.6,170.0 L1232.1,170.0 L1233.6,170.0 L1235.1,170.0 L1236.6,170.0 L1238.1,170.0 L1239.6,170.0 L1239.6,170.2 L1238.1,178.5 L1236.6,186.8 L1235.1,195.2 L1233.6,203.5 L1232.1,211.8 L1230.6,220.2 L1229.1,228.5 L1227.6,236.8 L1226.1,245.2 L1224.6,253.5 L1223.1,261.8 L1221.6,270.2 L1220.1,278.5 L1218.6,286.8 L1217.1,295.2 L1215.6,303.5 L1214.1,311.8 L1212.6,320.2 L1211.1,321.3 L1209.6,320.3 L1208.1,319.2 L1206.6,318.0 L1205.1,316.7 L1203.6,315.3 L1202.1,313.8 L1200.6,312.3 L1199.1,310.8 L1197.6,309.3 L1196.1,307.9 L1194.6,306.6 L1193.1,305.4 L1191.6,304.4 L1190.1,303.5 L1188.6,302.8 L1187.1,302.3 L1185.6,302.1 L1184.1,302.0 L1182.6,302.0 L1181.1,302.2 L1179.6,302.7 L1178.1,303.3 L1176.6,304.1 L1175.1,305.1 L1173.6,306.3 L1172.1,307.5 L1170.6,308.9 L1169.1,310.4 L1167.6,311.9 L1166.1,313.4 L1164.6,314.9 L1163.1,316.3 L1161.6,317.7 L1160.1,318.9 L1158.6,320.1 L1157.1,321.0 L1155.6,321.8 L1154.1,314.1 L1152.6,305.7 L1151.1,297.4 L1149.6,289.1 L1148.1,280.7 L1146.6,272.4 L1145.1,264.1 L1143.6,255.7 L1142.1,247.4 L1140.6,239.1 L1139.1,230.7 L1137.6,222.4 L1136.1,214.1 L1134.6,205.7 L1133.1,197.4 L1131.6,189.1 L1130.1,180.7 L1128.6,172.4 Z" fill="url(#gHaze)" filter="url(#bl3)"/><path d="M677.1,345 Q708.1,333 739.1,345 L723.1,388 Q708.1,400 693.1,388 Z" fill="#fff" fill-opacity="0.16" filter="url(#bl4)"/><path d="M686.1,405 L730.1,405 L711.1,440 L705.1,440 Z" fill="#fff" fill-opacity="0.10" filter="url(#bl4)"/><path d="M835.7,345 Q866.7,333 897.7,345 L881.7,388 Q866.7,400 851.7,388 Z" fill="#fff" fill-opacity="0.16" filter="url(#bl4)"/><path d="M844.7,405 L888.7,405 L869.7,440 L863.7,440 Z" fill="#fff" fill-opacity="0.10" filter="url(#bl4)"/><path d="M994.3,345 Q1025.3,333 1056.3,345 L1040.3,388 Q1025.3,400 1010.3,388 Z" fill="#fff" fill-opacity="0.16" filter="url(#bl4)"/><path d="M1003.3,405 L1047.3,405 L1028.3,440 L1022.3,440 Z" fill="#fff" fill-opacity="0.10" filter="url(#bl4)"/><path d="M1152.9,345 Q1183.9,333 1214.9,345 L1198.9,388 Q1183.9,400 1168.9,388 Z" fill="#fff" fill-opacity="0.16" filter="url(#bl4)"/><path d="M1161.9,405 L1205.9,405 L1186.9,440 L1180.9,440 Z" fill="#fff" fill-opacity="0.10" filter="url(#bl4)"/><path d="M1311.5,345 Q1342.5,333 1373.5,345 L1357.5,388 Q1342.5,400 1327.5,388 Z" fill="#fff" fill-opacity="0.16" filter="url(#bl4)"/><path d="M1320.5,405 L1364.5,405 L1345.5,440 L1339.5,440 Z" fill="#fff" fill-opacity="0.10" filter="url(#bl4)"/><path d="M663.1,352 Q708.1,300 753.1,352 Q708.1,322 663.1,352 Z" fill="#fff" fill-opacity="0.18" filter="url(#bl3)"/><path d="M821.7,352 Q866.7,300 911.7,352 Q866.7,322 821.7,352 Z" fill="#fff" fill-opacity="0.18" filter="url(#bl3)"/><path d="M980.3,352 Q1025.3,300 1070.3,352 Q1025.3,322 980.3,352 Z" fill="#fff" fill-opacity="0.18" filter="url(#bl3)"/><path d="M1138.9,352 Q1183.9,300 1228.9,352 Q1183.9,322 1138.9,352 Z" fill="#fff" fill-opacity="0.18" filter="url(#bl3)"/><path d="M1297.5,352 Q1342.5,300 1387.5,352 Q1342.5,322 1297.5,352 Z" fill="#fff" fill-opacity="0.18" filter="url(#bl3)"/><line x1="620.8" y1="85.5" x2="546.7" y2="496.9" stroke="#1414ff" stroke-opacity="0.25" stroke-width="2" filter="url(#bl1)"/><line x1="636.8" y1="85.5" x2="710.9" y2="496.9" stroke="#1414ff" stroke-opacity="0.25" stroke-width="2" filter="url(#bl1)"/><path d="M620.8,85.5 L636.8,85.5 L641.3,40.8 L616.3,40.8 Z" fill="#1414ff" fill-opacity="0.44" filter="url(#bl1)"/><path d="M620.8,85.5 L636.8,85.5 L641.3,40.8 L616.3,40.8 Z" fill="#1414ff" fill-opacity="0.16" filter="url(#bl10)"/><line x1="628.8" y1="85.5" x2="617.3" y2="40.8" stroke="#1414ff" stroke-opacity="0.17" stroke-width="1.6" filter="url(#bl0_5)"/><line x1="628.8" y1="85.5" x2="640.3" y2="40.8" stroke="#1414ff" stroke-opacity="0.17" stroke-width="1.6" filter="url(#bl0_5)"/><path d="M619.8,85.5 L637.8,85.5 L631.8,111.5 L625.8,111.5 Z" fill="#1414ff" fill-opacity="0.16" filter="url(#bl1_5)"/><path d="M568.8,488.9 L570.8,475.4 L572.8,461.9 L574.8,448.4 L576.8,434.9 L578.8,421.4 L580.8,407.9 L582.8,394.4 L584.8,380.9 L586.8,367.4 L588.8,353.9 L590.8,340.4 L592.8,326.9 L594.8,313.4 L596.8,299.9 L598.8,286.4 L600.8,272.9 L602.8,259.4 L604.8,246.0 L606.8,232.6 L608.8,219.7 L610.8,207.4 L612.8,195.9 L614.8,185.2 L616.8,175.5 L618.8,166.7 L620.8,158.8 L622.8,152.2 L624.8,146.8 L626.8,143.1 L628.8,141.7 L630.8,143.1 L632.8,146.8 L634.8,152.2 L636.8,158.8 L638.8,166.7 L640.8,175.5 L642.8,185.2 L644.8,195.9 L646.8,207.4 L648.8,219.7 L650.8,232.6 L652.8,246.0 L654.8,259.4 L656.8,272.9 L658.8,286.4 L660.8,299.9 L662.8,313.4 L664.8,326.9 L666.8,340.4 L668.8,353.9 L670.8,367.4 L672.8,380.9 L674.8,394.4 L676.8,407.9 L678.8,421.4 L680.8,434.9 L682.8,448.4 L684.8,461.9 L686.8,475.4 L688.8,488.9" fill="none" stroke="#1414ff" stroke-opacity="0.22" stroke-width="2.2" filter="url(#bl1)"/><ellipse cx="628.8" cy="145" rx="8" ry="7" fill="#1414ff" fill-opacity="0.18" filter="url(#bl3)"/><path d="M588.8,539.5 L590.8,535.1 L592.8,530.8 L594.8,526.5 L596.8,522.2 L598.8,518.0 L600.8,513.8 L602.8,509.6 L604.8,505.5 L606.8,501.5 L608.8,497.5 L610.8,493.5 L612.8,489.7 L614.8,485.9 L616.8,482.2 L618.8,478.5 L620.8,475.0 L622.8,471.6 L624.8,468.4 L626.8,465.4 L628.8,463.0 L630.8,465.4 L632.8,468.4 L634.8,471.6 L636.8,475.0 L638.8,478.5 L640.8,482.2 L642.8,485.9 L644.8,489.7 L646.8,493.5 L648.8,497.5 L650.8,501.5 L652.8,505.5 L654.8,509.6 L656.8,513.8 L658.8,518.0 L660.8,522.2 L662.8,526.5 L664.8,530.8 L666.8,535.1 L668.8,539.5" fill="none" stroke="#1414ff" stroke-opacity="0.28" stroke-width="2.4" filter="url(#bl1)"/><line x1="779.4" y1="85.5" x2="705.3" y2="496.9" stroke="#1414ff" stroke-opacity="0.25" stroke-width="2" filter="url(#bl1)"/><line x1="795.4" y1="85.5" x2="869.5" y2="496.9" stroke="#1414ff" stroke-opacity="0.25" stroke-width="2" filter="url(#bl1)"/><path d="M779.4,85.5 L795.4,85.5 L799.9,40.8 L774.9,40.8 Z" fill="#1414ff" fill-opacity="0.44" filter="url(#bl1)"/><path d="M779.4,85.5 L795.4,85.5 L799.9,40.8 L774.9,40.8 Z" fill="#1414ff" fill-opacity="0.16" filter="url(#bl10)"/><line x1="787.4" y1="85.5" x2="775.9" y2="40.8" stroke="#1414ff" stroke-opacity="0.17" stroke-width="1.6" filter="url(#bl0_5)"/><line x1="787.4" y1="85.5" x2="798.9" y2="40.8" stroke="#1414ff" stroke-opacity="0.17" stroke-width="1.6" filter="url(#bl0_5)"/><path d="M778.4,85.5 L796.4,85.5 L790.4,111.5 L784.4,111.5 Z" fill="#1414ff" fill-opacity="0.16" filter="url(#bl1_5)"/><path d="M727.4,488.9 L729.4,475.4 L731.4,461.9 L733.4,448.4 L735.4,434.9 L737.4,421.4 L739.4,407.9 L741.4,394.4 L743.4,380.9 L745.4,367.4 L747.4,353.9 L749.4,340.4 L751.4,326.9 L753.4,313.4 L755.4,299.9 L757.4,286.4 L759.4,272.9 L761.4,259.4 L763.4,246.0 L765.4,232.6 L767.4,219.7 L769.4,207.4 L771.4,195.9 L773.4,185.2 L775.4,175.5 L777.4,166.7 L779.4,158.8 L781.4,152.2 L783.4,146.8 L785.4,143.1 L787.4,141.7 L789.4,143.1 L791.4,146.8 L793.4,152.2 L795.4,158.8 L797.4,166.7 L799.4,175.5 L801.4,185.2 L803.4,195.9 L805.4,207.4 L807.4,219.7 L809.4,232.6 L811.4,246.0 L813.4,259.4 L815.4,272.9 L817.4,286.4 L819.4,299.9 L821.4,313.4 L823.4,326.9 L825.4,340.4 L827.4,353.9 L829.4,367.4 L831.4,380.9 L833.4,394.4 L835.4,407.9 L837.4,421.4 L839.4,434.9 L841.4,448.4 L843.4,461.9 L845.4,475.4 L847.4,488.9" fill="none" stroke="#1414ff" stroke-opacity="0.22" stroke-width="2.2" filter="url(#bl1)"/><ellipse cx="787.4" cy="145" rx="8" ry="7" fill="#1414ff" fill-opacity="0.18" filter="url(#bl3)"/><path d="M747.4,539.5 L749.4,535.1 L751.4,530.8 L753.4,526.5 L755.4,522.2 L757.4,518.0 L759.4,513.8 L761.4,509.6 L763.4,505.5 L765.4,501.5 L767.4,497.5 L769.4,493.5 L771.4,489.7 L773.4,485.9 L775.4,482.2 L777.4,478.5 L779.4,475.0 L781.4,471.6 L783.4,468.4 L785.4,465.4 L787.4,463.0 L789.4,465.4 L791.4,468.4 L793.4,471.6 L795.4,475.0 L797.4,478.5 L799.4,482.2 L801.4,485.9 L803.4,489.7 L805.4,493.5 L807.4,497.5 L809.4,501.5 L811.4,505.5 L813.4,509.6 L815.4,513.8 L817.4,518.0 L819.4,522.2 L821.4,526.5 L823.4,530.8 L825.4,535.1 L827.4,539.5" fill="none" stroke="#1414ff" stroke-opacity="0.28" stroke-width="2.4" filter="url(#bl1)"/><line x1="938.0" y1="85.5" x2="863.9" y2="496.9" stroke="#1414ff" stroke-opacity="0.25" stroke-width="2" filter="url(#bl1)"/><line x1="954.0" y1="85.5" x2="1028.1" y2="496.9" stroke="#1414ff" stroke-opacity="0.25" stroke-width="2" filter="url(#bl1)"/><path d="M938.0,85.5 L954.0,85.5 L958.5,40.8 L933.5,40.8 Z" fill="#1414ff" fill-opacity="0.44" filter="url(#bl1)"/><path d="M938.0,85.5 L954.0,85.5 L958.5,40.8 L933.5,40.8 Z" fill="#1414ff" fill-opacity="0.16" filter="url(#bl10)"/><line x1="946.0" y1="85.5" x2="934.5" y2="40.8" stroke="#1414ff" stroke-opacity="0.17" stroke-width="1.6" filter="url(#bl0_5)"/><line x1="946.0" y1="85.5" x2="957.5" y2="40.8" stroke="#1414ff" stroke-opacity="0.17" stroke-width="1.6" filter="url(#bl0_5)"/><path d="M937.0,85.5 L955.0,85.5 L949.0,111.5 L943.0,111.5 Z" fill="#1414ff" fill-opacity="0.16" filter="url(#bl1_5)"/><path d="M886.0,488.9 L888.0,475.4 L890.0,461.9 L892.0,448.4 L894.0,434.9 L896.0,421.4 L898.0,407.9 L900.0,394.4 L902.0,380.9 L904.0,367.4 L906.0,353.9 L908.0,340.4 L910.0,326.9 L912.0,313.4 L914.0,299.9 L916.0,286.4 L918.0,272.9 L920.0,259.4 L922.0,246.0 L924.0,232.6 L926.0,219.7 L928.0,207.4 L930.0,195.9 L932.0,185.2 L934.0,175.5 L936.0,166.7 L938.0,158.8 L940.0,152.2 L942.0,146.8 L944.0,143.1 L946.0,141.7 L948.0,143.1 L950.0,146.8 L952.0,152.2 L954.0,158.8 L956.0,166.7 L958.0,175.5 L960.0,185.2 L962.0,195.9 L964.0,207.4 L966.0,219.7 L968.0,232.6 L970.0,246.0 L972.0,259.4 L974.0,272.9 L976.0,286.4 L978.0,299.9 L980.0,313.4 L982.0,326.9 L984.0,340.4 L986.0,353.9 L988.0,367.4 L990.0,380.9 L992.0,394.4 L994.0,407.9 L996.0,421.4 L998.0,434.9 L1000.0,448.4 L1002.0,461.9 L1004.0,475.4 L1006.0,488.9" fill="none" stroke="#1414ff" stroke-opacity="0.22" stroke-width="2.2" filter="url(#bl1)"/><ellipse cx="946.0" cy="145" rx="8" ry="7" fill="#1414ff" fill-opacity="0.18" filter="url(#bl3)"/><path d="M906.0,539.5 L908.0,535.1 L910.0,530.8 L912.0,526.5 L914.0,522.2 L916.0,518.0 L918.0,513.8 L920.0,509.6 L922.0,505.5 L924.0,501.5 L926.0,497.5 L928.0,493.5 L930.0,489.7 L932.0,485.9 L934.0,482.2 L936.0,478.5 L938.0,475.0 L940.0,471.6 L942.0,468.4 L944.0,465.4 L946.0,463.0 L948.0,465.4 L950.0,468.4 L952.0,471.6 L954.0,475.0 L956.0,478.5 L958.0,482.2 L960.0,485.9 L962.0,489.7 L964.0,493.5 L966.0,497.5 L968.0,501.5 L970.0,505.5 L972.0,509.6 L974.0,513.8 L976.0,518.0 L978.0,522.2 L980.0,526.5 L982.0,530.8 L984.0,535.1 L986.0,539.5" fill="none" stroke="#1414ff" stroke-opacity="0.28" stroke-width="2.4" filter="url(#bl1)"/><line x1="1096.6" y1="85.5" x2="1022.5" y2="496.9" stroke="#1414ff" stroke-opacity="0.25" stroke-width="2" filter="url(#bl1)"/><line x1="1112.6" y1="85.5" x2="1186.7" y2="496.9" stroke="#1414ff" stroke-opacity="0.25" stroke-width="2" filter="url(#bl1)"/><path d="M1096.6,85.5 L1112.6,85.5 L1117.1,40.8 L1092.1,40.8 Z" fill="#1414ff" fill-opacity="0.44" filter="url(#bl1)"/><path d="M1096.6,85.5 L1112.6,85.5 L1117.1,40.8 L1092.1,40.8 Z" fill="#1414ff" fill-opacity="0.16" filter="url(#bl10)"/><line x1="1104.6" y1="85.5" x2="1093.1" y2="40.8" stroke="#1414ff" stroke-opacity="0.17" stroke-width="1.6" filter="url(#bl0_5)"/><line x1="1104.6" y1="85.5" x2="1116.1" y2="40.8" stroke="#1414ff" stroke-opacity="0.17" stroke-width="1.6" filter="url(#bl0_5)"/><path d="M1095.6,85.5 L1113.6,85.5 L1107.6,111.5 L1101.6,111.5 Z" fill="#1414ff" fill-opacity="0.16" filter="url(#bl1_5)"/><path d="M1044.6,488.9 L1046.6,475.4 L1048.6,461.9 L1050.6,448.4 L1052.6,434.9 L1054.6,421.4 L1056.6,407.9 L1058.6,394.4 L1060.6,380.9 L1062.6,367.4 L1064.6,353.9 L1066.6,340.4 L1068.6,326.9 L1070.6,313.4 L1072.6,299.9 L1074.6,286.4 L1076.6,272.9 L1078.6,259.4 L1080.6,246.0 L1082.6,232.6 L1084.6,219.7 L1086.6,207.4 L1088.6,195.9 L1090.6,185.2 L1092.6,175.5 L1094.6,166.7 L1096.6,158.8 L1098.6,152.2 L1100.6,146.8 L1102.6,143.1 L1104.6,141.7 L1106.6,143.1 L1108.6,146.8 L1110.6,152.2 L1112.6,158.8 L1114.6,166.7 L1116.6,175.5 L1118.6,185.2 L1120.6,195.9 L1122.6,207.4 L1124.6,219.7 L1126.6,232.6 L1128.6,246.0 L1130.6,259.4 L1132.6,272.9 L1134.6,286.4 L1136.6,299.9 L1138.6,313.4 L1140.6,326.9 L1142.6,340.4 L1144.6,353.9 L1146.6,367.4 L1148.6,380.9 L1150.6,394.4 L1152.6,407.9 L1154.6,421.4 L1156.6,434.9 L1158.6,448.4 L1160.6,461.9 L1162.6,475.4 L1164.6,488.9" fill="none" stroke="#1414ff" stroke-opacity="0.22" stroke-width="2.2" filter="url(#bl1)"/><ellipse cx="1104.6" cy="145" rx="8" ry="7" fill="#1414ff" fill-opacity="0.18" filter="url(#bl3)"/><path d="M1064.6,539.5 L1066.6,535.1 L1068.6,530.8 L1070.6,526.5 L1072.6,522.2 L1074.6,518.0 L1076.6,513.8 L1078.6,509.6 L1080.6,505.5 L1082.6,501.5 L1084.6,497.5 L1086.6,493.5 L1088.6,489.7 L1090.6,485.9 L1092.6,482.2 L1094.6,478.5 L1096.6,475.0 L1098.6,471.6 L1100.6,468.4 L1102.6,465.4 L1104.6,463.0 L1106.6,465.4 L1108.6,468.4 L1110.6,471.6 L1112.6,475.0 L1114.6,478.5 L1116.6,482.2 L1118.6,485.9 L1120.6,489.7 L1122.6,493.5 L1124.6,497.5 L1126.6,501.5 L1128.6,505.5 L1130.6,509.6 L1132.6,513.8 L1134.6,518.0 L1136.6,522.2 L1138.6,526.5 L1140.6,530.8 L1142.6,535.1 L1144.6,539.5" fill="none" stroke="#1414ff" stroke-opacity="0.28" stroke-width="2.4" filter="url(#bl1)"/><line x1="1255.2" y1="85.5" x2="1181.1" y2="496.9" stroke="#1414ff" stroke-opacity="0.25" stroke-width="2" filter="url(#bl1)"/><line x1="1271.2" y1="85.5" x2="1345.3" y2="496.9" stroke="#1414ff" stroke-opacity="0.25" stroke-width="2" filter="url(#bl1)"/><path d="M1255.2,85.5 L1271.2,85.5 L1275.7,40.8 L1250.7,40.8 Z" fill="#1414ff" fill-opacity="0.44" filter="url(#bl1)"/><path d="M1255.2,85.5 L1271.2,85.5 L1275.7,40.8 L1250.7,40.8 Z" fill="#1414ff" fill-opacity="0.16" filter="url(#bl10)"/><line x1="1263.2" y1="85.5" x2="1251.7" y2="40.8" stroke="#1414ff" stroke-opacity="0.17" stroke-width="1.6" filter="url(#bl0_5)"/><line x1="1263.2" y1="85.5" x2="1274.7" y2="40.8" stroke="#1414ff" stroke-opacity="0.17" stroke-width="1.6" filter="url(#bl0_5)"/><path d="M1254.2,85.5 L1272.2,85.5 L1266.2,111.5 L1260.2,111.5 Z" fill="#1414ff" fill-opacity="0.16" filter="url(#bl1_5)"/><path d="M1203.2,488.9 L1205.2,475.4 L1207.2,461.9 L1209.2,448.4 L1211.2,434.9 L1213.2,421.4 L1215.2,407.9 L1217.2,394.4 L1219.2,380.9 L1221.2,367.4 L1223.2,353.9 L1225.2,340.4 L1227.2,326.9 L1229.2,313.4 L1231.2,299.9 L1233.2,286.4 L1235.2,272.9 L1237.2,259.4 L1239.2,246.0 L1241.2,232.6 L1243.2,219.7 L1245.2,207.4 L1247.2,195.9 L1249.2,185.2 L1251.2,175.5 L1253.2,166.7 L1255.2,158.8 L1257.2,152.2 L1259.2,146.8 L1261.2,143.1 L1263.2,141.7 L1265.2,143.1 L1267.2,146.8 L1269.2,152.2 L1271.2,158.8 L1273.2,166.7 L1275.2,175.5 L1277.2,185.2 L1279.2,195.9 L1281.2,207.4 L1283.2,219.7 L1285.2,232.6 L1287.2,246.0 L1289.2,259.4 L1291.2,272.9 L1293.2,286.4 L1295.2,299.9 L1297.2,313.4 L1299.2,326.9 L1301.2,340.4 L1303.2,353.9 L1305.2,367.4 L1307.2,380.9 L1309.2,394.4 L1311.2,407.9 L1313.2,421.4 L1315.2,434.9 L1317.2,448.4 L1319.2,461.9 L1321.2,475.4 L1323.2,488.9" fill="none" stroke="#1414ff" stroke-opacity="0.22" stroke-width="2.2" filter="url(#bl1)"/><ellipse cx="1263.2" cy="145" rx="8" ry="7" fill="#1414ff" fill-opacity="0.18" filter="url(#bl3)"/><path d="M1223.2,539.5 L1225.2,535.1 L1227.2,530.8 L1229.2,526.5 L1231.2,522.2 L1233.2,518.0 L1235.2,513.8 L1237.2,509.6 L1239.2,505.5 L1241.2,501.5 L1243.2,497.5 L1245.2,493.5 L1247.2,489.7 L1249.2,485.9 L1251.2,482.2 L1253.2,478.5 L1255.2,475.0 L1257.2,471.6 L1259.2,468.4 L1261.2,465.4 L1263.2,463.0 L1265.2,465.4 L1267.2,468.4 L1269.2,471.6 L1271.2,475.0 L1273.2,478.5 L1275.2,482.2 L1277.2,485.9 L1279.2,489.7 L1281.2,493.5 L1283.2,497.5 L1285.2,501.5 L1287.2,505.5 L1289.2,509.6 L1291.2,513.8 L1293.2,518.0 L1295.2,522.2 L1297.2,526.5 L1299.2,530.8 L1301.2,535.1 L1303.2,539.5" fill="none" stroke="#1414ff" stroke-opacity="0.28" stroke-width="2.4" filter="url(#bl1)"/><path d="M677.1,40.8 C681.1,65.8 696.1,96 705.1,102.5 Q708.1,104.5 711.1,102.5 C720.1,96 735.1,65.8 739.1,40.8 Z" fill="url(#gBlob)" filter="url(#bl2_5)"/><path d="M690.1,40.8 Q700.1,80 708.1,93 Q716.1,80 726.1,40.8 Z" fill="#1414ff" fill-opacity="0.07" filter="url(#bl3)"/><path d="M677.1,40.8 C681.1,65.8 696.1,96 705.1,102.5 Q708.1,104.5 711.1,102.5 C720.1,96 735.1,65.8 739.1,40.8 Z" fill="#1414ff" fill-opacity="0.06" filter="url(#bl10)"/><path d="M835.7,40.8 C839.7,65.8 854.7,96 863.7,102.5 Q866.7,104.5 869.7,102.5 C878.7,96 893.7,65.8 897.7,40.8 Z" fill="url(#gBlob)" filter="url(#bl2_5)"/><path d="M848.7,40.8 Q858.7,80 866.7,93 Q874.7,80 884.7,40.8 Z" fill="#1414ff" fill-opacity="0.07" filter="url(#bl3)"/><path d="M835.7,40.8 C839.7,65.8 854.7,96 863.7,102.5 Q866.7,104.5 869.7,102.5 C878.7,96 893.7,65.8 897.7,40.8 Z" fill="#1414ff" fill-opacity="0.06" filter="url(#bl10)"/><path d="M994.3,40.8 C998.3,65.8 1013.3,96 1022.3,102.5 Q1025.3,104.5 1028.3,102.5 C1037.3,96 1052.3,65.8 1056.3,40.8 Z" fill="url(#gBlob)" filter="url(#bl2_5)"/><path d="M1007.3,40.8 Q1017.3,80 1025.3,93 Q1033.3,80 1043.3,40.8 Z" fill="#1414ff" fill-opacity="0.07" filter="url(#bl3)"/><path d="M994.3,40.8 C998.3,65.8 1013.3,96 1022.3,102.5 Q1025.3,104.5 1028.3,102.5 C1037.3,96 1052.3,65.8 1056.3,40.8 Z" fill="#1414ff" fill-opacity="0.06" filter="url(#bl10)"/><path d="M1152.9,40.8 C1156.9,65.8 1171.9,96 1180.9,102.5 Q1183.9,104.5 1186.9,102.5 C1195.9,96 1210.9,65.8 1214.9,40.8 Z" fill="url(#gBlob)" filter="url(#bl2_5)"/><path d="M1165.9,40.8 Q1175.9,80 1183.9,93 Q1191.9,80 1201.9,40.8 Z" fill="#1414ff" fill-opacity="0.07" filter="url(#bl3)"/><path d="M1152.9,40.8 C1156.9,65.8 1171.9,96 1180.9,102.5 Q1183.9,104.5 1186.9,102.5 C1195.9,96 1210.9,65.8 1214.9,40.8 Z" fill="#1414ff" fill-opacity="0.06" filter="url(#bl10)"/><path d="M1311.5,40.8 C1315.5,65.8 1330.5,96 1339.5,102.5 Q1342.5,104.5 1345.5,102.5 C1354.5,96 1369.5,65.8 1373.5,40.8 Z" fill="url(#gBlob)" filter="url(#bl2_5)"/><path d="M1324.5,40.8 Q1334.5,80 1342.5,93 Q1350.5,80 1360.5,40.8 Z" fill="#1414ff" fill-opacity="0.07" filter="url(#bl3)"/><path d="M1311.5,40.8 C1315.5,65.8 1330.5,96 1339.5,102.5 Q1342.5,104.5 1345.5,102.5 C1354.5,96 1369.5,65.8 1373.5,40.8 Z" fill="#1414ff" fill-opacity="0.06" filter="url(#bl10)"/><path d="M697.5,307.5 L698.5,306.7 L699.5,306.0 L700.5,305.4 L701.5,304.8 L702.5,304.3 L703.5,303.9 L704.5,303.5 L705.5,303.3 L706.5,303.1 L707.5,303.1 L708.5,303.1 L709.5,303.1 L710.5,303.3 L711.5,303.5 L712.5,303.8 L713.5,304.2 L714.5,304.7 L715.5,305.3 L716.5,305.9 L717.5,306.7 L718.5,307.4 L719.5,308.3 L720.5,309.2 L721.5,310.1 L722.5,311.1 L723.5,312.0 L724.5,313.0 L725.5,314.0 L726.5,315.0 L727.5,316.0 L728.5,317.0 L729.5,317.9 L730.5,318.8 L731.5,319.6 L732.5,320.4 L733.5,321.1 L734.5,321.7 L735.5,322.3 L736.5,322.8 L737.5,323.2 L738.5,323.5 L739.5,323.5 L740.5,323.0 L741.5,321.6 L742.5,319.1 L743.5,316.0 L744.5,312.5 L745.5,309.0 L746.5,305.5 L747.5,302.1 L748.5,298.7 L749.5,295.4 L750.5,292.2 L751.5,289.1 L752.5,286.0 L753.5,282.9 L754.5,280.0 L755.5,277.1 L756.5,274.3 L757.5,271.5 L758.5,268.8 L759.5,266.2 L760.5,263.7 L761.5,261.2 L762.5,258.8 L763.5,256.4 L764.5,254.2 L765.5,252.0 L766.5,249.9 L767.5,247.8 L768.5,245.9 L769.5,244.0 L770.5,242.2 L771.5,240.4 L772.5,238.8 L773.5,237.2 L774.5,235.7 L775.5,234.3 L776.5,233.0 L777.5,231.8 L778.5,230.6 L779.5,229.6 L780.5,228.6 L781.5,227.8 L782.5,227.0 L783.5,226.4 L784.5,225.9 L785.5,225.5 L786.5,225.3 L787.5,225.2 L788.5,225.3 L789.5,225.6 L790.5,226.0 L791.5,226.6 L792.5,227.3 L793.5,228.0 L794.5,228.9 L795.5,229.9 L796.5,231.0 L797.5,232.1 L798.5,233.4 L799.5,234.7 L800.5,236.1 L801.5,237.7 L802.5,239.3 L803.5,240.9 L804.5,242.7 L805.5,244.5 L806.5,246.4 L807.5,248.4 L808.5,250.5 L809.5,252.6 L810.5,254.8 L811.5,257.1 L812.5,259.5 L813.5,261.9 L814.5,264.4 L815.5,267.0 L816.5,269.6 L817.5,272.3 L818.5,275.1 L819.5,278.0 L820.5,280.9 L821.5,283.8 L822.5,286.9 L823.5,290.0 L824.5,293.2 L825.5,296.4 L826.5,299.7 L827.5,303.1 L828.5,306.5 L829.5,310.0 L830.5,313.5 L831.5,317.0 L832.5,320.0 L833.5,322.1 L834.5,323.2 L835.5,323.6 L836.5,323.4 L837.5,323.1 L838.5,322.7 L839.5,322.1 L840.5,321.6 L841.5,320.9 L842.5,320.1 L843.5,319.3 L844.5,318.5 L845.5,317.6 L846.5,316.7 L847.5,315.7 L848.5,314.7 L849.5,313.7 L850.5,312.7 L851.5,311.7 L852.5,310.8 L853.5,309.8 L854.5,308.9 L855.5,308.0 L856.5,307.2 L857.5,306.4 L858.5,305.7 L859.5,305.1 L860.5,304.6 L861.5,304.1 L862.5,303.7 L863.5,303.4 L864.5,303.2 L865.5,303.1 L866.5,303.1 L867.5,303.1 L868.5,303.2 L869.5,303.3 L870.5,303.6 L871.5,304.0 L872.5,304.4 L873.5,304.9 L874.5,305.5 L875.5,306.2 L876.5,307.0 L877.5,307.8 L878.5,308.6 L879.5,309.5 L880.5,310.5 L881.5,311.4 L882.5,312.4 L883.5,313.4 L884.5,314.4 L885.5,315.4 L886.5,316.4 L887.5,317.3 L888.5,318.2 L889.5,319.1 L890.5,319.9 L891.5,320.7 L892.5,321.4 L893.5,322.0 L894.5,322.5 L895.5,323.0 L896.5,323.3 L897.5,323.5 L898.5,323.4 L899.5,322.5 L900.5,320.7 L901.5,317.9 L902.5,314.6 L903.5,311.1 L904.5,307.6 L905.5,304.1 L906.5,300.7 L907.5,297.4 L908.5,294.1 L909.5,290.9 L910.5,287.8 L911.5,284.8 L912.5,281.8 L913.5,278.8 L914.5,276.0 L915.5,273.2 L916.5,270.4 L917.5,267.8 L918.5,265.2 L919.5,262.7 L920.5,260.2 L921.5,257.8 L922.5,255.5 L923.5,253.3 L924.5,251.1 L925.5,249.0 L926.5,247.0 L927.5,245.1 L928.5,243.2 L929.5,241.5 L930.5,239.8 L931.5,238.1 L932.5,236.6 L933.5,235.1 L934.5,233.8 L935.5,232.5 L936.5,231.3 L937.5,230.2 L938.5,229.2 L939.5,228.3 L940.5,227.5 L941.5,226.8 L942.5,226.2 L943.5,225.7 L944.5,225.4 L945.5,225.2 L946.5,225.2 L947.5,225.4 L948.5,225.8 L949.5,226.2 L950.5,226.8 L951.5,227.5 L952.5,228.4 L953.5,229.3 L954.5,230.3 L955.5,231.4 L956.5,232.6 L957.5,233.9 L958.5,235.3 L959.5,236.7 L960.5,238.3 L961.5,239.9 L962.5,241.6 L963.5,243.4 L964.5,245.3 L965.5,247.2 L966.5,249.2 L967.5,251.3 L968.5,253.5 L969.5,255.7 L970.5,258.1 L971.5,260.4 L972.5,262.9 L973.5,265.4 L974.5,268.0 L975.5,270.7 L976.5,273.4 L977.5,276.2 L978.5,279.1 L979.5,282.1 L980.5,285.1 L981.5,288.1 L982.5,291.3 L983.5,294.5 L984.5,297.7 L985.5,301.1 L986.5,304.5 L987.5,307.9 L988.5,311.4 L989.5,314.9 L990.5,318.2 L991.5,320.9 L992.5,322.6 L993.5,323.4 L994.5,323.5 L995.5,323.3 L996.5,322.9 L997.5,322.5 L998.5,321.9 L999.5,321.3 L1000.5,320.6 L1001.5,319.8 L1002.5,319.0 L1003.5,318.1 L1004.5,317.2 L1005.5,316.3 L1006.5,315.3 L1007.5,314.3 L1008.5,313.3 L1009.5,312.3 L1010.5,311.3 L1011.5,310.4 L1012.5,309.4 L1013.5,308.5 L1014.5,307.7 L1015.5,306.9 L1016.5,306.2 L1017.5,305.5 L1018.5,304.9 L1019.5,304.4 L1020.5,303.9 L1021.5,303.6 L1022.5,303.3 L1023.5,303.2 L1024.5,303.1 L1025.5,303.1 L1026.5,303.1 L1027.5,303.2 L1028.5,303.4 L1029.5,303.7 L1030.5,304.1 L1031.5,304.6 L1032.5,305.2 L1033.5,305.8 L1034.5,306.5 L1035.5,307.3 L1036.5,308.1 L1037.5,309.0 L1038.5,309.9 L1039.5,310.9 L1040.5,311.8 L1041.5,312.8 L1042.5,313.8 L1043.5,314.8 L1044.5,315.8 L1045.5,316.8 L1046.5,317.7 L1047.5,318.6 L1048.5,319.4 L1049.5,320.2 L1050.5,321.0 L1051.5,321.6 L1052.5,322.2 L1053.5,322.7 L1054.5,323.1 L1055.5,323.4 L1056.5,323.6 L1057.5,323.2 L1058.5,322.0 L1059.5,319.7 L1060.5,316.7 L1061.5,313.2 L1062.5,309.7 L1063.5,306.2 L1064.5,302.8 L1065.5,299.4 L1066.5,296.1 L1067.5,292.9 L1068.5,289.7 L1069.5,286.6 L1070.5,283.5 L1071.5,280.6 L1072.5,277.7 L1073.5,274.8 L1074.5,272.1 L1075.5,269.4 L1076.5,266.7 L1077.5,264.2 L1078.5,261.7 L1079.5,259.2 L1080.5,256.9 L1081.5,254.6 L1082.5,252.4 L1083.5,250.3 L1084.5,248.2 L1085.5,246.2 L1086.5,244.3 L1087.5,242.5 L1088.5,240.8 L1089.5,239.1 L1090.5,237.5 L1091.5,236.0 L1092.5,234.6 L1093.5,233.2 L1094.5,232.0 L1095.5,230.8 L1096.5,229.8 L1097.5,228.8 L1098.5,227.9 L1099.5,227.2 L1100.5,226.5 L1101.5,226.0 L1102.5,225.6 L1103.5,225.3 L1104.5,225.2 L1105.5,225.3 L1106.5,225.5 L1107.5,225.9 L1108.5,226.5 L1109.5,227.1 L1110.5,227.9 L1111.5,228.7 L1112.5,229.7 L1113.5,230.7 L1114.5,231.9 L1115.5,233.1 L1116.5,234.4 L1117.5,235.9 L1118.5,237.4 L1119.5,238.9 L1120.5,240.6 L1121.5,242.3 L1122.5,244.2 L1123.5,246.0 L1124.5,248.0 L1125.5,250.1 L1126.5,252.2 L1127.5,254.4 L1128.5,256.7 L1129.5,259.0 L1130.5,261.4 L1131.5,263.9 L1132.5,266.5 L1133.5,269.1 L1134.5,271.8 L1135.5,274.6 L1136.5,277.4 L1137.5,280.3 L1138.5,283.2 L1139.5,286.3 L1140.5,289.4 L1141.5,292.5 L1142.5,295.8 L1143.5,299.1 L1144.5,302.4 L1145.5,305.8 L1146.5,309.3 L1147.5,312.8 L1148.5,316.3 L1149.5,319.5 L1150.5,321.8 L1151.5,323.1 L1152.5,323.6 L1153.5,323.5 L1154.5,323.2 L1155.5,322.8 L1156.5,322.3 L1157.5,321.7 L1158.5,321.0 L1159.5,320.3 L1160.5,319.5 L1161.5,318.7 L1162.5,317.8 L1163.5,316.9 L1164.5,315.9 L1165.5,314.9 L1166.5,313.9 L1167.5,312.9 L1168.5,311.9 L1169.5,311.0 L1170.5,310.0 L1171.5,309.1 L1172.5,308.2 L1173.5,307.4 L1174.5,306.6 L1175.5,305.9 L1176.5,305.2 L1177.5,304.7 L1178.5,304.2 L1179.5,303.8 L1180.5,303.5 L1181.5,303.2 L1182.5,303.1 L1183.5,303.1 L1184.5,303.1 L1185.5,303.1 L1186.5,303.3 L1187.5,303.6 L1188.5,303.9 L1189.5,304.3 L1190.5,304.8 L1191.5,305.4 L1192.5,306.1 L1193.5,306.8 L1194.5,307.6 L1195.5,308.5 L1196.5,309.4 L1197.5,310.3 L1198.5,311.2 L1199.5,312.2 L1200.5,313.2 L1201.5,314.2 L1202.5,315.2 L1203.5,316.2 L1204.5,317.1 L1205.5,318.1 L1206.5,318.9 L1207.5,319.8 L1208.5,320.5 L1209.5,321.2 L1210.5,321.9 L1211.5,322.4 L1212.5,322.9 L1213.5,323.3 L1214.5,323.5 L1215.5,323.4 L1216.5,322.7 L1217.5,321.1 L1218.5,318.5 L1219.5,315.3 L1220.5,311.8 L1221.5,308.3 L1222.5,304.8 L1223.5,301.4 L1224.5,298.1 L1225.5,294.8 L1226.5,291.6 L1227.5,288.4 L1228.5,285.4 L1229.5,282.4 L1230.5,279.4 L1231.5,276.5 L1232.5,273.7 L1233.5,271.0 L1234.5,268.3 L1235.5,265.7 L1236.5,263.2 L1237.5,260.7 L1238.5,258.3 L1239.5,256.0 L1240.5,253.7 L1241.5,251.6 L1242.5,249.4 L1243.5,247.4 L1244.5,245.5 L1245.5,243.6 L1246.5,241.8 L1247.5,240.1 L1248.5,238.4 L1249.5,236.9 L1250.5,235.4 L1251.5,234.0 L1252.5,232.7 L1253.5,231.5 L1254.5,230.4 L1255.5,229.4 L1256.5,228.5 L1257.5,227.6 L1258.5,226.9 L1259.5,226.3 L1260.5,225.8 L1261.5,225.4 L1262.5,225.2 L1263.5,225.2 L1264.5,225.4 L1265.5,225.7 L1266.5,226.1 L1267.5,226.7 L1268.5,227.4 L1269.5,228.2 L1270.5,229.1 L1271.5,230.1 L1272.5,231.2 L1273.5,232.3" fill="none" stroke="#1414ff" stroke-opacity="0.38" stroke-width="2.6" filter="url(#bl1)"/><path d="M697.5,307.5 L698.5,306.7 L699.5,306.0 L700.5,305.4 L701.5,304.8 L702.5,304.3 L703.5,303.9 L704.5,303.5 L705.5,303.3 L706.5,303.1 L707.5,303.1 L708.5,303.1 L709.5,303.1 L710.5,303.3 L711.5,303.5 L712.5,303.8 L713.5,304.2 L714.5,304.7 L715.5,305.3 L716.5,305.9 L717.5,306.7 L718.5,307.4 L719.5,308.3 L720.5,309.2 L721.5,310.1 L722.5,311.1 L723.5,312.0 L724.5,313.0 L725.5,314.0 L726.5,315.0 L727.5,316.0 L728.5,317.0 L729.5,317.9 L730.5,318.8 L731.5,319.6 L732.5,320.4 L733.5,321.1 L734.5,321.7 L735.5,322.3 L736.5,322.8 L737.5,323.2 L738.5,323.5 L739.5,323.5 L740.5,323.0 L741.5,321.6 L742.5,319.1 L743.5,316.0 L744.5,312.5 L745.5,309.0 L746.5,305.5 L747.5,302.1 L748.5,298.7 L749.5,295.4 L750.5,292.2 L751.5,289.1 L752.5,286.0 L753.5,282.9 L754.5,280.0 L755.5,277.1 L756.5,274.3 L757.5,271.5 L758.5,268.8 L759.5,266.2 L760.5,263.7 L761.5,261.2 L762.5,258.8 L763.5,256.4 L764.5,254.2 L765.5,252.0 L766.5,249.9 L767.5,247.8 L768.5,245.9 L769.5,244.0 L770.5,242.2 L771.5,240.4 L772.5,238.8 L773.5,237.2 L774.5,235.7 L775.5,234.3 L776.5,233.0 L777.5,231.8 L778.5,230.6 L779.5,229.6 L780.5,228.6 L781.5,227.8 L782.5,227.0 L783.5,226.4 L784.5,225.9 L785.5,225.5 L786.5,225.3 L787.5,225.2 L788.5,225.3 L789.5,225.6 L790.5,226.0 L791.5,226.6 L792.5,227.3 L793.5,228.0 L794.5,228.9 L795.5,229.9 L796.5,231.0 L797.5,232.1 L798.5,233.4 L799.5,234.7 L800.5,236.1 L801.5,237.7 L802.5,239.3 L803.5,240.9 L804.5,242.7 L805.5,244.5 L806.5,246.4 L807.5,248.4 L808.5,250.5 L809.5,252.6 L810.5,254.8 L811.5,257.1 L812.5,259.5 L813.5,261.9 L814.5,264.4 L815.5,267.0 L816.5,269.6 L817.5,272.3 L818.5,275.1 L819.5,278.0 L820.5,280.9 L821.5,283.8 L822.5,286.9 L823.5,290.0 L824.5,293.2 L825.5,296.4 L826.5,299.7 L827.5,303.1 L828.5,306.5 L829.5,310.0 L830.5,313.5 L831.5,317.0 L832.5,320.0 L833.5,322.1 L834.5,323.2 L835.5,323.6 L836.5,323.4 L837.5,323.1 L838.5,322.7 L839.5,322.1 L840.5,321.6 L841.5,320.9 L842.5,320.1 L843.5,319.3 L844.5,318.5 L845.5,317.6 L846.5,316.7 L847.5,315.7 L848.5,314.7 L849.5,313.7 L850.5,312.7 L851.5,311.7 L852.5,310.8 L853.5,309.8 L854.5,308.9 L855.5,308.0 L856.5,307.2 L857.5,306.4 L858.5,305.7 L859.5,305.1 L860.5,304.6 L861.5,304.1 L862.5,303.7 L863.5,303.4 L864.5,303.2 L865.5,303.1 L866.5,303.1 L867.5,303.1 L868.5,303.2 L869.5,303.3 L870.5,303.6 L871.5,304.0 L872.5,304.4 L873.5,304.9 L874.5,305.5 L875.5,306.2 L876.5,307.0 L877.5,307.8 L878.5,308.6 L879.5,309.5 L880.5,310.5 L881.5,311.4 L882.5,312.4 L883.5,313.4 L884.5,314.4 L885.5,315.4 L886.5,316.4 L887.5,317.3 L888.5,318.2 L889.5,319.1 L890.5,319.9 L891.5,320.7 L892.5,321.4 L893.5,322.0 L894.5,322.5 L895.5,323.0 L896.5,323.3 L897.5,323.5 L898.5,323.4 L899.5,322.5 L900.5,320.7 L901.5,317.9 L902.5,314.6 L903.5,311.1 L904.5,307.6 L905.5,304.1 L906.5,300.7 L907.5,297.4 L908.5,294.1 L909.5,290.9 L910.5,287.8 L911.5,284.8 L912.5,281.8 L913.5,278.8 L914.5,276.0 L915.5,273.2 L916.5,270.4 L917.5,267.8 L918.5,265.2 L919.5,262.7 L920.5,260.2 L921.5,257.8 L922.5,255.5 L923.5,253.3 L924.5,251.1 L925.5,249.0 L926.5,247.0 L927.5,245.1 L928.5,243.2 L929.5,241.5 L930.5,239.8 L931.5,238.1 L932.5,236.6 L933.5,235.1 L934.5,233.8 L935.5,232.5 L936.5,231.3 L937.5,230.2 L938.5,229.2 L939.5,228.3 L940.5,227.5 L941.5,226.8 L942.5,226.2 L943.5,225.7 L944.5,225.4 L945.5,225.2 L946.5,225.2 L947.5,225.4 L948.5,225.8 L949.5,226.2 L950.5,226.8 L951.5,227.5 L952.5,228.4 L953.5,229.3 L954.5,230.3 L955.5,231.4 L956.5,232.6 L957.5,233.9 L958.5,235.3 L959.5,236.7 L960.5,238.3 L961.5,239.9 L962.5,241.6 L963.5,243.4 L964.5,245.3 L965.5,247.2 L966.5,249.2 L967.5,251.3 L968.5,253.5 L969.5,255.7 L970.5,258.1 L971.5,260.4 L972.5,262.9 L973.5,265.4 L974.5,268.0 L975.5,270.7 L976.5,273.4 L977.5,276.2 L978.5,279.1 L979.5,282.1 L980.5,285.1 L981.5,288.1 L982.5,291.3 L983.5,294.5 L984.5,297.7 L985.5,301.1 L986.5,304.5 L987.5,307.9 L988.5,311.4 L989.5,314.9 L990.5,318.2 L991.5,320.9 L992.5,322.6 L993.5,323.4 L994.5,323.5 L995.5,323.3 L996.5,322.9 L997.5,322.5 L998.5,321.9 L999.5,321.3 L1000.5,320.6 L1001.5,319.8 L1002.5,319.0 L1003.5,318.1 L1004.5,317.2 L1005.5,316.3 L1006.5,315.3 L1007.5,314.3 L1008.5,313.3 L1009.5,312.3 L1010.5,311.3 L1011.5,310.4 L1012.5,309.4 L1013.5,308.5 L1014.5,307.7 L1015.5,306.9 L1016.5,306.2 L1017.5,305.5 L1018.5,304.9 L1019.5,304.4 L1020.5,303.9 L1021.5,303.6 L1022.5,303.3 L1023.5,303.2 L1024.5,303.1 L1025.5,303.1 L1026.5,303.1 L1027.5,303.2 L1028.5,303.4 L1029.5,303.7 L1030.5,304.1 L1031.5,304.6 L1032.5,305.2 L1033.5,305.8 L1034.5,306.5 L1035.5,307.3 L1036.5,308.1 L1037.5,309.0 L1038.5,309.9 L1039.5,310.9 L1040.5,311.8 L1041.5,312.8 L1042.5,313.8 L1043.5,314.8 L1044.5,315.8 L1045.5,316.8 L1046.5,317.7 L1047.5,318.6 L1048.5,319.4 L1049.5,320.2 L1050.5,321.0 L1051.5,321.6 L1052.5,322.2 L1053.5,322.7 L1054.5,323.1 L1055.5,323.4 L1056.5,323.6 L1057.5,323.2 L1058.5,322.0 L1059.5,319.7 L1060.5,316.7 L1061.5,313.2 L1062.5,309.7 L1063.5,306.2 L1064.5,302.8 L1065.5,299.4 L1066.5,296.1 L1067.5,292.9 L1068.5,289.7 L1069.5,286.6 L1070.5,283.5 L1071.5,280.6 L1072.5,277.7 L1073.5,274.8 L1074.5,272.1 L1075.5,269.4 L1076.5,266.7 L1077.5,264.2 L1078.5,261.7 L1079.5,259.2 L1080.5,256.9 L1081.5,254.6 L1082.5,252.4 L1083.5,250.3 L1084.5,248.2 L1085.5,246.2 L1086.5,244.3 L1087.5,242.5 L1088.5,240.8 L1089.5,239.1 L1090.5,237.5 L1091.5,236.0 L1092.5,234.6 L1093.5,233.2 L1094.5,232.0 L1095.5,230.8 L1096.5,229.8 L1097.5,228.8 L1098.5,227.9 L1099.5,227.2 L1100.5,226.5 L1101.5,226.0 L1102.5,225.6 L1103.5,225.3 L1104.5,225.2 L1105.5,225.3 L1106.5,225.5 L1107.5,225.9 L1108.5,226.5 L1109.5,227.1 L1110.5,227.9 L1111.5,228.7 L1112.5,229.7 L1113.5,230.7 L1114.5,231.9 L1115.5,233.1 L1116.5,234.4 L1117.5,235.9 L1118.5,237.4 L1119.5,238.9 L1120.5,240.6 L1121.5,242.3 L1122.5,244.2 L1123.5,246.0 L1124.5,248.0 L1125.5,250.1 L1126.5,252.2 L1127.5,254.4 L1128.5,256.7 L1129.5,259.0 L1130.5,261.4 L1131.5,263.9 L1132.5,266.5 L1133.5,269.1 L1134.5,271.8 L1135.5,274.6 L1136.5,277.4 L1137.5,280.3 L1138.5,283.2 L1139.5,286.3 L1140.5,289.4 L1141.5,292.5 L1142.5,295.8 L1143.5,299.1 L1144.5,302.4 L1145.5,305.8 L1146.5,309.3 L1147.5,312.8 L1148.5,316.3 L1149.5,319.5 L1150.5,321.8 L1151.5,323.1 L1152.5,323.6 L1153.5,323.5 L1154.5,323.2 L1155.5,322.8 L1156.5,322.3 L1157.5,321.7 L1158.5,321.0 L1159.5,320.3 L1160.5,319.5 L1161.5,318.7 L1162.5,317.8 L1163.5,316.9 L1164.5,315.9 L1165.5,314.9 L1166.5,313.9 L1167.5,312.9 L1168.5,311.9 L1169.5,311.0 L1170.5,310.0 L1171.5,309.1 L1172.5,308.2 L1173.5,307.4 L1174.5,306.6 L1175.5,305.9 L1176.5,305.2 L1177.5,304.7 L1178.5,304.2 L1179.5,303.8 L1180.5,303.5 L1181.5,303.2 L1182.5,303.1 L1183.5,303.1 L1184.5,303.1 L1185.5,303.1 L1186.5,303.3 L1187.5,303.6 L1188.5,303.9 L1189.5,304.3 L1190.5,304.8 L1191.5,305.4 L1192.5,306.1 L1193.5,306.8 L1194.5,307.6 L1195.5,308.5 L1196.5,309.4 L1197.5,310.3 L1198.5,311.2 L1199.5,312.2 L1200.5,313.2 L1201.5,314.2 L1202.5,315.2 L1203.5,316.2 L1204.5,317.1 L1205.5,318.1 L1206.5,318.9 L1207.5,319.8 L1208.5,320.5 L1209.5,321.2 L1210.5,321.9 L1211.5,322.4 L1212.5,322.9 L1213.5,323.3 L1214.5,323.5 L1215.5,323.4 L1216.5,322.7 L1217.5,321.1 L1218.5,318.5 L1219.5,315.3 L1220.5,311.8 L1221.5,308.3 L1222.5,304.8 L1223.5,301.4 L1224.5,298.1 L1225.5,294.8 L1226.5,291.6 L1227.5,288.4 L1228.5,285.4 L1229.5,282.4 L1230.5,279.4 L1231.5,276.5 L1232.5,273.7 L1233.5,271.0 L1234.5,268.3 L1235.5,265.7 L1236.5,263.2 L1237.5,260.7 L1238.5,258.3 L1239.5,256.0 L1240.5,253.7 L1241.5,251.6 L1242.5,249.4 L1243.5,247.4 L1244.5,245.5 L1245.5,243.6 L1246.5,241.8 L1247.5,240.1 L1248.5,238.4 L1249.5,236.9 L1250.5,235.4 L1251.5,234.0 L1252.5,232.7 L1253.5,231.5 L1254.5,230.4 L1255.5,229.4 L1256.5,228.5 L1257.5,227.6 L1258.5,226.9 L1259.5,226.3 L1260.5,225.8 L1261.5,225.4 L1262.5,225.2 L1263.5,225.2 L1264.5,225.4 L1265.5,225.7 L1266.5,226.1 L1267.5,226.7 L1268.5,227.4 L1269.5,228.2 L1270.5,229.1 L1271.5,230.1 L1272.5,231.2 L1273.5,232.3" fill="none" stroke="#1414ff" stroke-opacity="0.12" stroke-width="8" filter="url(#bl3)"/><path d="M697.5,326.9 L698.5,326.1 L699.5,325.3 L700.5,324.5 L701.5,323.9 L702.5,323.4 L703.5,322.9 L704.5,322.6 L705.5,322.3 L706.5,322.1 L707.5,322.1 L708.5,322.1 L709.5,322.1 L710.5,322.3 L711.5,322.5 L712.5,322.9 L713.5,323.3 L714.5,323.9 L715.5,324.5 L716.5,325.2 L717.5,326.0 L718.5,326.9 L719.5,327.8 L720.5,328.8 L721.5,329.9 L722.5,331.0 L723.5,332.2 L724.5,333.4 L725.5,334.7 L726.5,336.0 L727.5,337.2 L728.5,338.5 L729.5,339.8 L730.5,341.1 L731.5,342.4 L732.5,343.6 L733.5,344.8 L734.5,346.0 L735.5,347.1 L736.5,348.2 L737.5,349.2 L738.5,350.2 L739.5,351.0 L740.5,351.8 L741.5,352.6 L742.5,353.2 L743.5,353.7 L744.5,354.1 L745.5,354.5 L746.5,354.6 L747.5,354.3 L748.5,353.5 L749.5,351.9 L750.5,349.9 L751.5,347.7 L752.5,345.4 L753.5,343.1 L754.5,340.9 L755.5,338.6 L756.5,336.4 L757.5,334.2 L758.5,331.9 L759.5,329.8 L760.5,327.6 L761.5,325.4 L762.5,323.3 L763.5,321.1 L764.5,319.0 L765.5,316.9 L766.5,314.9 L767.5,312.8 L768.5,310.8 L769.5,308.8 L770.5,306.8 L771.5,304.8 L772.5,302.9 L773.5,301.0 L774.5,299.1 L775.5,297.2 L776.5,295.4 L777.5,293.6 L778.5,291.9 L779.5,290.1 L780.5,288.5 L781.5,286.9 L782.5,285.3 L783.5,283.8 L784.5,282.4 L785.5,281.2 L786.5,280.4 L787.5,280.2 L788.5,280.6 L789.5,281.5 L790.5,282.8 L791.5,284.2 L792.5,285.8 L793.5,287.3 L794.5,289.0 L795.5,290.7 L796.5,292.4 L797.5,294.1 L798.5,295.9 L799.5,297.8 L800.5,299.6 L801.5,301.5 L802.5,303.5 L803.5,305.4 L804.5,307.4 L805.5,309.4 L806.5,311.4 L807.5,313.4 L808.5,315.5 L809.5,317.6 L810.5,319.7 L811.5,321.8 L812.5,323.9 L813.5,326.1 L814.5,328.2 L815.5,330.4 L816.5,332.6 L817.5,334.8 L818.5,337.0 L819.5,339.3 L820.5,341.5 L821.5,343.8 L822.5,346.1 L823.5,348.4 L824.5,350.6 L825.5,352.5 L826.5,353.8 L827.5,354.5 L828.5,354.6 L829.5,354.4 L830.5,354.0 L831.5,353.6 L832.5,353.0 L833.5,352.3 L834.5,351.6 L835.5,350.8 L836.5,349.9 L837.5,348.9 L838.5,347.9 L839.5,346.8 L840.5,345.7 L841.5,344.5 L842.5,343.3 L843.5,342.0 L844.5,340.7 L845.5,339.4 L846.5,338.1 L847.5,336.9 L848.5,335.6 L849.5,334.3 L850.5,333.1 L851.5,331.9 L852.5,330.7 L853.5,329.6 L854.5,328.5 L855.5,327.5 L856.5,326.6 L857.5,325.7 L858.5,325.0 L859.5,324.3 L860.5,323.7 L861.5,323.2 L862.5,322.8 L863.5,322.4 L864.5,322.2 L865.5,322.1 L866.5,322.1 L867.5,322.1 L868.5,322.2 L869.5,322.4 L870.5,322.7 L871.5,323.0 L872.5,323.5 L873.5,324.1 L874.5,324.8 L875.5,325.5 L876.5,326.3 L877.5,327.2 L878.5,328.2 L879.5,329.3 L880.5,330.4 L881.5,331.5 L882.5,332.7 L883.5,333.9 L884.5,335.2 L885.5,336.5 L886.5,337.8 L887.5,339.1 L888.5,340.3 L889.5,341.6 L890.5,342.9 L891.5,344.1 L892.5,345.3 L893.5,346.5 L894.5,347.6 L895.5,348.6 L896.5,349.6 L897.5,350.5 L898.5,351.4 L899.5,352.1 L900.5,352.8 L901.5,353.4 L902.5,353.9 L903.5,354.3 L904.5,354.5 L905.5,354.5 L906.5,354.0 L907.5,352.9 L908.5,351.2 L909.5,349.0 L910.5,346.8 L911.5,344.5 L912.5,342.2 L913.5,340.0 L914.5,337.7 L915.5,335.5 L916.5,333.3 L917.5,331.1 L918.5,328.9 L919.5,326.7 L920.5,324.6 L921.5,322.4 L922.5,320.3 L923.5,318.2 L924.5,316.1 L925.5,314.0 L926.5,312.0 L927.5,310.0 L928.5,308.0 L929.5,306.0 L930.5,304.0 L931.5,302.1 L932.5,300.2 L933.5,298.3 L934.5,296.5 L935.5,294.7 L936.5,292.9 L937.5,291.2 L938.5,289.5 L939.5,287.8 L940.5,286.2 L941.5,284.7 L942.5,283.2 L943.5,281.9 L944.5,280.8 L945.5,280.2 L946.5,280.3 L947.5,280.9 L948.5,282.0 L949.5,283.4 L950.5,284.8 L951.5,286.4 L952.5,288.0 L953.5,289.6 L954.5,291.3 L955.5,293.1 L956.5,294.9 L957.5,296.7 L958.5,298.5 L959.5,300.4 L960.5,302.3 L961.5,304.2 L962.5,306.2 L963.5,308.2 L964.5,310.2 L965.5,312.2 L966.5,314.2 L967.5,316.3 L968.5,318.4 L969.5,320.5 L970.5,322.6 L971.5,324.8 L972.5,326.9 L973.5,329.1 L974.5,331.3 L975.5,333.5 L976.5,335.7 L977.5,337.9 L978.5,340.2 L979.5,342.5 L980.5,344.7 L981.5,347.0 L982.5,349.3 L983.5,351.3 L984.5,353.0 L985.5,354.1 L986.5,354.5 L987.5,354.5 L988.5,354.3 L989.5,353.8 L990.5,353.3 L991.5,352.7 L992.5,352.1 L993.5,351.3 L994.5,350.4 L995.5,349.5 L996.5,348.5 L997.5,347.5 L998.5,346.4 L999.5,345.2 L1000.5,344.0 L1001.5,342.8 L1002.5,341.5 L1003.5,340.2 L1004.5,338.9 L1005.5,337.6 L1006.5,336.3 L1007.5,335.1 L1008.5,333.8 L1009.5,332.6 L1010.5,331.4 L1011.5,330.2 L1012.5,329.2 L1013.5,328.1 L1014.5,327.1 L1015.5,326.2 L1016.5,325.4 L1017.5,324.7 L1018.5,324.0 L1019.5,323.5 L1020.5,323.0 L1021.5,322.6 L1022.5,322.3 L1023.5,322.2 L1024.5,322.1 L1025.5,322.1 L1026.5,322.1 L1027.5,322.2 L1028.5,322.5 L1029.5,322.8 L1030.5,323.2 L1031.5,323.7 L1032.5,324.3 L1033.5,325.0 L1034.5,325.8 L1035.5,326.7 L1036.5,327.6 L1037.5,328.6 L1038.5,329.7 L1039.5,330.8 L1040.5,332.0 L1041.5,333.2 L1042.5,334.4 L1043.5,335.7 L1044.5,337.0 L1045.5,338.3 L1046.5,339.6 L1047.5,340.9 L1048.5,342.1 L1049.5,343.4 L1050.5,344.6 L1051.5,345.8 L1052.5,346.9 L1053.5,348.0 L1054.5,349.0 L1055.5,350.0 L1056.5,350.9 L1057.5,351.7 L1058.5,352.4 L1059.5,353.1 L1060.5,353.6 L1061.5,354.1 L1062.5,354.4 L1063.5,354.6 L1064.5,354.4 L1065.5,353.7 L1066.5,352.3 L1067.5,350.4 L1068.5,348.2 L1069.5,345.9 L1070.5,343.6 L1071.5,341.3 L1072.5,339.1 L1073.5,336.8 L1074.5,334.6 L1075.5,332.4 L1076.5,330.2 L1077.5,328.0 L1078.5,325.8 L1079.5,323.7 L1080.5,321.6 L1081.5,319.5 L1082.5,317.4 L1083.5,315.3 L1084.5,313.2 L1085.5,311.2 L1086.5,309.2 L1087.5,307.2 L1088.5,305.2 L1089.5,303.3 L1090.5,301.3 L1091.5,299.5 L1092.5,297.6 L1093.5,295.8 L1094.5,294.0 L1095.5,292.2 L1096.5,290.5 L1097.5,288.8 L1098.5,287.2 L1099.5,285.6 L1100.5,284.1 L1101.5,282.7 L1102.5,281.4 L1103.5,280.5 L1104.5,280.1 L1105.5,280.4 L1106.5,281.3 L1107.5,282.5 L1108.5,283.9 L1109.5,285.4 L1110.5,287.0 L1111.5,288.6 L1112.5,290.3 L1113.5,292.0 L1114.5,293.8 L1115.5,295.6 L1116.5,297.4 L1117.5,299.3 L1118.5,301.2 L1119.5,303.1 L1120.5,305.0 L1121.5,307.0 L1122.5,309.0 L1123.5,311.0 L1124.5,313.0 L1125.5,315.1 L1126.5,317.1 L1127.5,319.2 L1128.5,321.4 L1129.5,323.5 L1130.5,325.6 L1131.5,327.8 L1132.5,330.0 L1133.5,332.2 L1134.5,334.4 L1135.5,336.6 L1136.5,338.8 L1137.5,341.1 L1138.5,343.4 L1139.5,345.6 L1140.5,347.9 L1141.5,350.2 L1142.5,352.1 L1143.5,353.6 L1144.5,354.4 L1145.5,354.6 L1146.5,354.4 L1147.5,354.1 L1148.5,353.7 L1149.5,353.1 L1150.5,352.5 L1151.5,351.8 L1152.5,351.0 L1153.5,350.1 L1154.5,349.1 L1155.5,348.1 L1156.5,347.0 L1157.5,345.9 L1158.5,344.7 L1159.5,343.5 L1160.5,342.3 L1161.5,341.0 L1162.5,339.7 L1163.5,338.4 L1164.5,337.1 L1165.5,335.8 L1166.5,334.6 L1167.5,333.3 L1168.5,332.1 L1169.5,330.9 L1170.5,329.8 L1171.5,328.7 L1172.5,327.7 L1173.5,326.8 L1174.5,325.9 L1175.5,325.1 L1176.5,324.4 L1177.5,323.8 L1178.5,323.3 L1179.5,322.8 L1180.5,322.5 L1181.5,322.3 L1182.5,322.1 L1183.5,322.1 L1184.5,322.1 L1185.5,322.2 L1186.5,322.3 L1187.5,322.6 L1188.5,323.0 L1189.5,323.4 L1190.5,324.0 L1191.5,324.6 L1192.5,325.3 L1193.5,326.2 L1194.5,327.1 L1195.5,328.0 L1196.5,329.0 L1197.5,330.1 L1198.5,331.3 L1199.5,332.5 L1200.5,333.7 L1201.5,334.9 L1202.5,336.2 L1203.5,337.5 L1204.5,338.8 L1205.5,340.1 L1206.5,341.4 L1207.5,342.6 L1208.5,343.9 L1209.5,345.1 L1210.5,346.2 L1211.5,347.4 L1212.5,348.4 L1213.5,349.4 L1214.5,350.4 L1215.5,351.2 L1216.5,352.0 L1217.5,352.7 L1218.5,353.3 L1219.5,353.8 L1220.5,354.2 L1221.5,354.5 L1222.5,354.6 L1223.5,354.2 L1224.5,353.2 L1225.5,351.5 L1226.5,349.5 L1227.5,347.2 L1228.5,345.0 L1229.5,342.7 L1230.5,340.4 L1231.5,338.2 L1232.5,335.9 L1233.5,333.7 L1234.5,331.5 L1235.5,329.3 L1236.5,327.1 L1237.5,325.0 L1238.5,322.8 L1239.5,320.7 L1240.5,318.6 L1241.5,316.5 L1242.5,314.5 L1243.5,312.4 L1244.5,310.4 L1245.5,308.4 L1246.5,306.4 L1247.5,304.4 L1248.5,302.5 L1249.5,300.6 L1250.5,298.7 L1251.5,296.9 L1252.5,295.0 L1253.5,293.3 L1254.5,291.5 L1255.5,289.8 L1256.5,288.1 L1257.5,286.5 L1258.5,285.0 L1259.5,283.5 L1260.5,282.2 L1261.5,281.0 L1262.5,280.3 L1263.5,280.2 L1264.5,280.8 L1265.5,281.8 L1266.5,283.1 L1267.5,284.5 L1268.5,286.1 L1269.5,287.7 L1270.5,289.3 L1271.5,291.0 L1272.5,292.7 L1273.5,294.5" fill="none" stroke="#1414ff" stroke-opacity="0.34" stroke-width="2.6" filter="url(#bl1)"/><path d="M697.5,326.9 L698.5,326.1 L699.5,325.3 L700.5,324.5 L701.5,323.9 L702.5,323.4 L703.5,322.9 L704.5,322.6 L705.5,322.3 L706.5,322.1 L707.5,322.1 L708.5,322.1 L709.5,322.1 L710.5,322.3 L711.5,322.5 L712.5,322.9 L713.5,323.3 L714.5,323.9 L715.5,324.5 L716.5,325.2 L717.5,326.0 L718.5,326.9 L719.5,327.8 L720.5,328.8 L721.5,329.9 L722.5,331.0 L723.5,332.2 L724.5,333.4 L725.5,334.7 L726.5,336.0 L727.5,337.2 L728.5,338.5 L729.5,339.8 L730.5,341.1 L731.5,342.4 L732.5,343.6 L733.5,344.8 L734.5,346.0 L735.5,347.1 L736.5,348.2 L737.5,349.2 L738.5,350.2 L739.5,351.0 L740.5,351.8 L741.5,352.6 L742.5,353.2 L743.5,353.7 L744.5,354.1 L745.5,354.5 L746.5,354.6 L747.5,354.3 L748.5,353.5 L749.5,351.9 L750.5,349.9 L751.5,347.7 L752.5,345.4 L753.5,343.1 L754.5,340.9 L755.5,338.6 L756.5,336.4 L757.5,334.2 L758.5,331.9 L759.5,329.8 L760.5,327.6 L761.5,325.4 L762.5,323.3 L763.5,321.1 L764.5,319.0 L765.5,316.9 L766.5,314.9 L767.5,312.8 L768.5,310.8 L769.5,308.8 L770.5,306.8 L771.5,304.8 L772.5,302.9 L773.5,301.0 L774.5,299.1 L775.5,297.2 L776.5,295.4 L777.5,293.6 L778.5,291.9 L779.5,290.1 L780.5,288.5 L781.5,286.9 L782.5,285.3 L783.5,283.8 L784.5,282.4 L785.5,281.2 L786.5,280.4 L787.5,280.2 L788.5,280.6 L789.5,281.5 L790.5,282.8 L791.5,284.2 L792.5,285.8 L793.5,287.3 L794.5,289.0 L795.5,290.7 L796.5,292.4 L797.5,294.1 L798.5,295.9 L799.5,297.8 L800.5,299.6 L801.5,301.5 L802.5,303.5 L803.5,305.4 L804.5,307.4 L805.5,309.4 L806.5,311.4 L807.5,313.4 L808.5,315.5 L809.5,317.6 L810.5,319.7 L811.5,321.8 L812.5,323.9 L813.5,326.1 L814.5,328.2 L815.5,330.4 L816.5,332.6 L817.5,334.8 L818.5,337.0 L819.5,339.3 L820.5,341.5 L821.5,343.8 L822.5,346.1 L823.5,348.4 L824.5,350.6 L825.5,352.5 L826.5,353.8 L827.5,354.5 L828.5,354.6 L829.5,354.4 L830.5,354.0 L831.5,353.6 L832.5,353.0 L833.5,352.3 L834.5,351.6 L835.5,350.8 L836.5,349.9 L837.5,348.9 L838.5,347.9 L839.5,346.8 L840.5,345.7 L841.5,344.5 L842.5,343.3 L843.5,342.0 L844.5,340.7 L845.5,339.4 L846.5,338.1 L847.5,336.9 L848.5,335.6 L849.5,334.3 L850.5,333.1 L851.5,331.9 L852.5,330.7 L853.5,329.6 L854.5,328.5 L855.5,327.5 L856.5,326.6 L857.5,325.7 L858.5,325.0 L859.5,324.3 L860.5,323.7 L861.5,323.2 L862.5,322.8 L863.5,322.4 L864.5,322.2 L865.5,322.1 L866.5,322.1 L867.5,322.1 L868.5,322.2 L869.5,322.4 L870.5,322.7 L871.5,323.0 L872.5,323.5 L873.5,324.1 L874.5,324.8 L875.5,325.5 L876.5,326.3 L877.5,327.2 L878.5,328.2 L879.5,329.3 L880.5,330.4 L881.5,331.5 L882.5,332.7 L883.5,333.9 L884.5,335.2 L885.5,336.5 L886.5,337.8 L887.5,339.1 L888.5,340.3 L889.5,341.6 L890.5,342.9 L891.5,344.1 L892.5,345.3 L893.5,346.5 L894.5,347.6 L895.5,348.6 L896.5,349.6 L897.5,350.5 L898.5,351.4 L899.5,352.1 L900.5,352.8 L901.5,353.4 L902.5,353.9 L903.5,354.3 L904.5,354.5 L905.5,354.5 L906.5,354.0 L907.5,352.9 L908.5,351.2 L909.5,349.0 L910.5,346.8 L911.5,344.5 L912.5,342.2 L913.5,340.0 L914.5,337.7 L915.5,335.5 L916.5,333.3 L917.5,331.1 L918.5,328.9 L919.5,326.7 L920.5,324.6 L921.5,322.4 L922.5,320.3 L923.5,318.2 L924.5,316.1 L925.5,314.0 L926.5,312.0 L927.5,310.0 L928.5,308.0 L929.5,306.0 L930.5,304.0 L931.5,302.1 L932.5,300.2 L933.5,298.3 L934.5,296.5 L935.5,294.7 L936.5,292.9 L937.5,291.2 L938.5,289.5 L939.5,287.8 L940.5,286.2 L941.5,284.7 L942.5,283.2 L943.5,281.9 L944.5,280.8 L945.5,280.2 L946.5,280.3 L947.5,280.9 L948.5,282.0 L949.5,283.4 L950.5,284.8 L951.5,286.4 L952.5,288.0 L953.5,289.6 L954.5,291.3 L955.5,293.1 L956.5,294.9 L957.5,296.7 L958.5,298.5 L959.5,300.4 L960.5,302.3 L961.5,304.2 L962.5,306.2 L963.5,308.2 L964.5,310.2 L965.5,312.2 L966.5,314.2 L967.5,316.3 L968.5,318.4 L969.5,320.5 L970.5,322.6 L971.5,324.8 L972.5,326.9 L973.5,329.1 L974.5,331.3 L975.5,333.5 L976.5,335.7 L977.5,337.9 L978.5,340.2 L979.5,342.5 L980.5,344.7 L981.5,347.0 L982.5,349.3 L983.5,351.3 L984.5,353.0 L985.5,354.1 L986.5,354.5 L987.5,354.5 L988.5,354.3 L989.5,353.8 L990.5,353.3 L991.5,352.7 L992.5,352.1 L993.5,351.3 L994.5,350.4 L995.5,349.5 L996.5,348.5 L997.5,347.5 L998.5,346.4 L999.5,345.2 L1000.5,344.0 L1001.5,342.8 L1002.5,341.5 L1003.5,340.2 L1004.5,338.9 L1005.5,337.6 L1006.5,336.3 L1007.5,335.1 L1008.5,333.8 L1009.5,332.6 L1010.5,331.4 L1011.5,330.2 L1012.5,329.2 L1013.5,328.1 L1014.5,327.1 L1015.5,326.2 L1016.5,325.4 L1017.5,324.7 L1018.5,324.0 L1019.5,323.5 L1020.5,323.0 L1021.5,322.6 L1022.5,322.3 L1023.5,322.2 L1024.5,322.1 L1025.5,322.1 L1026.5,322.1 L1027.5,322.2 L1028.5,322.5 L1029.5,322.8 L1030.5,323.2 L1031.5,323.7 L1032.5,324.3 L1033.5,325.0 L1034.5,325.8 L1035.5,326.7 L1036.5,327.6 L1037.5,328.6 L1038.5,329.7 L1039.5,330.8 L1040.5,332.0 L1041.5,333.2 L1042.5,334.4 L1043.5,335.7 L1044.5,337.0 L1045.5,338.3 L1046.5,339.6 L1047.5,340.9 L1048.5,342.1 L1049.5,343.4 L1050.5,344.6 L1051.5,345.8 L1052.5,346.9 L1053.5,348.0 L1054.5,349.0 L1055.5,350.0 L1056.5,350.9 L1057.5,351.7 L1058.5,352.4 L1059.5,353.1 L1060.5,353.6 L1061.5,354.1 L1062.5,354.4 L1063.5,354.6 L1064.5,354.4 L1065.5,353.7 L1066.5,352.3 L1067.5,350.4 L1068.5,348.2 L1069.5,345.9 L1070.5,343.6 L1071.5,341.3 L1072.5,339.1 L1073.5,336.8 L1074.5,334.6 L1075.5,332.4 L1076.5,330.2 L1077.5,328.0 L1078.5,325.8 L1079.5,323.7 L1080.5,321.6 L1081.5,319.5 L1082.5,317.4 L1083.5,315.3 L1084.5,313.2 L1085.5,311.2 L1086.5,309.2 L1087.5,307.2 L1088.5,305.2 L1089.5,303.3 L1090.5,301.3 L1091.5,299.5 L1092.5,297.6 L1093.5,295.8 L1094.5,294.0 L1095.5,292.2 L1096.5,290.5 L1097.5,288.8 L1098.5,287.2 L1099.5,285.6 L1100.5,284.1 L1101.5,282.7 L1102.5,281.4 L1103.5,280.5 L1104.5,280.1 L1105.5,280.4 L1106.5,281.3 L1107.5,282.5 L1108.5,283.9 L1109.5,285.4 L1110.5,287.0 L1111.5,288.6 L1112.5,290.3 L1113.5,292.0 L1114.5,293.8 L1115.5,295.6 L1116.5,297.4 L1117.5,299.3 L1118.5,301.2 L1119.5,303.1 L1120.5,305.0 L1121.5,307.0 L1122.5,309.0 L1123.5,311.0 L1124.5,313.0 L1125.5,315.1 L1126.5,317.1 L1127.5,319.2 L1128.5,321.4 L1129.5,323.5 L1130.5,325.6 L1131.5,327.8 L1132.5,330.0 L1133.5,332.2 L1134.5,334.4 L1135.5,336.6 L1136.5,338.8 L1137.5,341.1 L1138.5,343.4 L1139.5,345.6 L1140.5,347.9 L1141.5,350.2 L1142.5,352.1 L1143.5,353.6 L1144.5,354.4 L1145.5,354.6 L1146.5,354.4 L1147.5,354.1 L1148.5,353.7 L1149.5,353.1 L1150.5,352.5 L1151.5,351.8 L1152.5,351.0 L1153.5,350.1 L1154.5,349.1 L1155.5,348.1 L1156.5,347.0 L1157.5,345.9 L1158.5,344.7 L1159.5,343.5 L1160.5,342.3 L1161.5,341.0 L1162.5,339.7 L1163.5,338.4 L1164.5,337.1 L1165.5,335.8 L1166.5,334.6 L1167.5,333.3 L1168.5,332.1 L1169.5,330.9 L1170.5,329.8 L1171.5,328.7 L1172.5,327.7 L1173.5,326.8 L1174.5,325.9 L1175.5,325.1 L1176.5,324.4 L1177.5,323.8 L1178.5,323.3 L1179.5,322.8 L1180.5,322.5 L1181.5,322.3 L1182.5,322.1 L1183.5,322.1 L1184.5,322.1 L1185.5,322.2 L1186.5,322.3 L1187.5,322.6 L1188.5,323.0 L1189.5,323.4 L1190.5,324.0 L1191.5,324.6 L1192.5,325.3 L1193.5,326.2 L1194.5,327.1 L1195.5,328.0 L1196.5,329.0 L1197.5,330.1 L1198.5,331.3 L1199.5,332.5 L1200.5,333.7 L1201.5,334.9 L1202.5,336.2 L1203.5,337.5 L1204.5,338.8 L1205.5,340.1 L1206.5,341.4 L1207.5,342.6 L1208.5,343.9 L1209.5,345.1 L1210.5,346.2 L1211.5,347.4 L1212.5,348.4 L1213.5,349.4 L1214.5,350.4 L1215.5,351.2 L1216.5,352.0 L1217.5,352.7 L1218.5,353.3 L1219.5,353.8 L1220.5,354.2 L1221.5,354.5 L1222.5,354.6 L1223.5,354.2 L1224.5,353.2 L1225.5,351.5 L1226.5,349.5 L1227.5,347.2 L1228.5,345.0 L1229.5,342.7 L1230.5,340.4 L1231.5,338.2 L1232.5,335.9 L1233.5,333.7 L1234.5,331.5 L1235.5,329.3 L1236.5,327.1 L1237.5,325.0 L1238.5,322.8 L1239.5,320.7 L1240.5,318.6 L1241.5,316.5 L1242.5,314.5 L1243.5,312.4 L1244.5,310.4 L1245.5,308.4 L1246.5,306.4 L1247.5,304.4 L1248.5,302.5 L1249.5,300.6 L1250.5,298.7 L1251.5,296.9 L1252.5,295.0 L1253.5,293.3 L1254.5,291.5 L1255.5,289.8 L1256.5,288.1 L1257.5,286.5 L1258.5,285.0 L1259.5,283.5 L1260.5,282.2 L1261.5,281.0 L1262.5,280.3 L1263.5,280.2 L1264.5,280.8 L1265.5,281.8 L1266.5,283.1 L1267.5,284.5 L1268.5,286.1 L1269.5,287.7 L1270.5,289.3 L1271.5,291.0 L1272.5,292.7 L1273.5,294.5" fill="none" stroke="#1414ff" stroke-opacity="0.12" stroke-width="8" filter="url(#bl3)"/><path d="M697.5,387.1 L698.5,389.3 L699.5,391.1 L700.5,392.7 L701.5,394.2 L702.5,395.8 L703.5,397.3 L704.5,398.5 L705.5,399.3 L706.5,400.0 L707.5,400.5 L708.5,400.5 L709.5,400.0 L710.5,399.4 L711.5,398.6 L712.5,397.4 L713.5,395.9 L714.5,394.4 L715.5,392.8 L716.5,391.3 L717.5,389.5 L718.5,387.3 L719.5,384.6 L720.5,381.7 L721.5,378.9 L722.5,376.0 L723.5,373.2 L724.5,370.3 L725.5,367.4 L726.5,364.3 L727.5,361.0 L728.5,357.7 L729.5,354.3 L730.5,350.9 L731.5,347.6 L732.5,344.1 L733.5,340.4 L734.5,336.5 L735.5,332.5 L736.5,328.5 L737.5,324.5 L738.5,320.2 L739.5,315.1 L740.5,309.5 L741.5,303.7 L742.5,298.0 L743.5,292.2 L744.5,286.5 L745.5,280.8 L746.5,275.1 L747.5,269.7 L748.5,264.6 L749.5,259.5 L750.5,254.3 L751.5,249.0 L752.5,243.2 L753.5,237.4 L754.5,231.5 L755.5,225.6 L756.5,219.7 L757.5,213.8 L758.5,207.9 L759.5,202.1 L760.5,196.6 L761.5,191.2 L762.5,185.8 L763.5,180.5 L764.5,175.1 L765.5,169.8 L766.5,164.4 L767.5,159.1 L768.5,153.7 L769.5,148.3 L770.5,143.0 L771.5,137.6 L772.5,132.3 L773.5,126.9 L774.5,121.6 L775.5,116.2 L776.5,111.4 L777.5,107.8 L778.5,105.3 L779.5,103.1 L780.5,100.8 L781.5,98.6 L782.5,96.4 L783.5,94.1 L784.5,91.9 L785.5,89.6 L786.5,87.6 L787.5,86.8 L788.5,88.1 L789.5,90.3 L790.5,92.5 L791.5,94.8 L792.5,97.0 L793.5,99.3 L794.5,101.5 L795.5,103.7 L796.5,106.0 L797.5,108.7 L798.5,112.8 L799.5,117.8 L800.5,123.2 L801.5,128.5 L802.5,133.9 L803.5,139.2 L804.5,144.6 L805.5,149.9 L806.5,155.3 L807.5,160.7 L808.5,166.0 L809.5,171.4 L810.5,176.7 L811.5,182.1 L812.5,187.4 L813.5,192.8 L814.5,198.2 L815.5,203.9 L816.5,209.7 L817.5,215.6 L818.5,221.5 L819.5,227.4 L820.5,233.2 L821.5,239.1 L822.5,245.0 L823.5,250.6 L824.5,255.9 L825.5,261.0 L826.5,266.1 L827.5,271.3 L828.5,276.8 L829.5,282.5 L830.5,288.2 L831.5,294.0 L832.5,299.7 L833.5,305.4 L834.5,311.2 L835.5,316.7 L836.5,321.5 L837.5,325.7 L838.5,329.7 L839.5,333.7 L840.5,337.7 L841.5,341.6 L842.5,345.2 L843.5,348.6 L844.5,351.9 L845.5,355.3 L846.5,358.7 L847.5,362.0 L848.5,365.3 L849.5,368.3 L850.5,371.2 L851.5,374.0 L852.5,376.9 L853.5,379.7 L854.5,382.6 L855.5,385.4 L856.5,388.0 L857.5,390.1 L858.5,391.7 L859.5,393.3 L860.5,394.8 L861.5,396.4 L862.5,397.8 L863.5,398.8 L864.5,399.6 L865.5,400.2 L866.5,400.6 L867.5,400.4 L868.5,399.8 L869.5,399.1 L870.5,398.2 L871.5,396.9 L872.5,395.3 L873.5,393.8 L874.5,392.2 L875.5,390.6 L876.5,388.8 L877.5,386.3 L878.5,383.4 L879.5,380.6 L880.5,377.7 L881.5,374.9 L882.5,372.0 L883.5,369.2 L884.5,366.2 L885.5,363.0 L886.5,359.7 L887.5,356.3 L888.5,353.0 L889.5,349.6 L890.5,346.2 L891.5,342.7 L892.5,338.9 L893.5,334.9 L894.5,330.9 L895.5,326.9 L896.5,322.8 L897.5,318.3 L898.5,312.9 L899.5,307.2 L900.5,301.4 L901.5,295.7 L902.5,289.9 L903.5,284.2 L904.5,278.5 L905.5,272.9 L906.5,267.6 L907.5,262.5 L908.5,257.4 L909.5,252.2 L910.5,246.7 L911.5,240.9 L912.5,235.0 L913.5,229.1 L914.5,223.2 L915.5,217.4 L916.5,211.5 L917.5,205.6 L918.5,199.9 L919.5,194.4 L920.5,189.0 L921.5,183.7 L922.5,178.3 L923.5,173.0 L924.5,167.6 L925.5,162.3 L926.5,156.9 L927.5,151.6 L928.5,146.2 L929.5,140.9 L930.5,135.5 L931.5,130.1 L932.5,124.8 L933.5,119.4 L934.5,114.1 L935.5,109.6 L936.5,106.7 L937.5,104.4 L938.5,102.2 L939.5,99.9 L940.5,97.7 L941.5,95.5 L942.5,93.2 L943.5,91.0 L944.5,88.7 L945.5,87.1 L946.5,87.2 L947.5,89.0 L948.5,91.2 L949.5,93.4 L950.5,95.7 L951.5,97.9 L952.5,100.2 L953.5,102.4 L954.5,104.6 L955.5,106.9 L956.5,110.0 L957.5,114.6 L958.5,120.0 L959.5,125.3 L960.5,130.7 L961.5,136.0 L962.5,141.4 L963.5,146.7 L964.5,152.1 L965.5,157.4 L966.5,162.8 L967.5,168.1 L968.5,173.5 L969.5,178.9 L970.5,184.2 L971.5,189.6 L972.5,194.9 L973.5,200.4 L974.5,206.2 L975.5,212.1 L976.5,217.9 L977.5,223.8 L978.5,229.7 L979.5,235.6 L980.5,241.5 L981.5,247.2 L982.5,252.7 L983.5,257.9 L984.5,263.0 L985.5,268.2 L986.5,273.4 L987.5,279.0 L988.5,284.8 L989.5,290.5 L990.5,296.2 L991.5,302.0 L992.5,307.7 L993.5,313.5 L994.5,318.8 L995.5,323.3 L996.5,327.3 L997.5,331.3 L998.5,335.3 L999.5,339.3 L1000.5,343.1 L1001.5,346.6 L1002.5,349.9 L1003.5,353.3 L1004.5,356.7 L1005.5,360.0 L1006.5,363.3 L1007.5,366.5 L1008.5,369.5 L1009.5,372.3 L1010.5,375.2 L1011.5,378.0 L1012.5,380.9 L1013.5,383.7 L1014.5,386.5 L1015.5,389.0 L1016.5,390.8 L1017.5,392.3 L1018.5,393.9 L1019.5,395.5 L1020.5,397.0 L1021.5,398.3 L1022.5,399.2 L1023.5,399.8 L1024.5,400.4 L1025.5,400.6 L1026.5,400.2 L1027.5,399.5 L1028.5,398.8 L1029.5,397.7 L1030.5,396.2 L1031.5,394.7 L1032.5,393.1 L1033.5,391.6 L1034.5,389.9 L1035.5,387.8 L1036.5,385.1 L1037.5,382.3 L1038.5,379.4 L1039.5,376.6 L1040.5,373.7 L1041.5,370.9 L1042.5,368.0 L1043.5,365.0 L1044.5,361.7 L1045.5,358.3 L1046.5,355.0 L1047.5,351.6 L1048.5,348.2 L1049.5,344.8 L1050.5,341.2 L1051.5,337.3 L1052.5,333.3 L1053.5,329.3 L1054.5,325.3 L1055.5,321.1 L1056.5,316.1 L1057.5,310.6 L1058.5,304.9 L1059.5,299.1 L1060.5,293.4 L1061.5,287.6 L1062.5,281.9 L1063.5,276.2 L1064.5,270.8 L1065.5,265.6 L1066.5,260.5 L1067.5,255.4 L1068.5,250.1 L1069.5,244.4 L1070.5,238.5 L1071.5,232.6 L1072.5,226.8 L1073.5,220.9 L1074.5,215.0 L1075.5,209.1 L1076.5,203.3 L1077.5,197.7 L1078.5,192.2 L1079.5,186.9 L1080.5,181.5 L1081.5,176.2 L1082.5,170.8 L1083.5,165.5 L1084.5,160.1 L1085.5,154.8 L1086.5,149.4 L1087.5,144.1 L1088.5,138.7 L1089.5,133.4 L1090.5,128.0 L1091.5,122.6 L1092.5,117.3 L1093.5,112.3 L1094.5,108.4 L1095.5,105.8 L1096.5,103.5 L1097.5,101.3 L1098.5,99.0 L1099.5,96.8 L1100.5,94.6 L1101.5,92.3 L1102.5,90.1 L1103.5,87.8 L1104.5,86.7 L1105.5,87.7 L1106.5,89.9 L1107.5,92.1 L1108.5,94.3 L1109.5,96.6 L1110.5,98.8 L1111.5,101.1 L1112.5,103.3 L1113.5,105.5 L1114.5,108.1 L1115.5,111.8 L1116.5,116.8 L1117.5,122.1 L1118.5,127.5 L1119.5,132.8 L1120.5,138.2 L1121.5,143.5 L1122.5,148.9 L1123.5,154.2 L1124.5,159.6 L1125.5,164.9 L1126.5,170.3 L1127.5,175.6 L1128.5,181.0 L1129.5,186.4 L1130.5,191.7 L1131.5,197.1 L1132.5,202.7 L1133.5,208.5 L1134.5,214.4 L1135.5,220.3 L1136.5,226.2 L1137.5,232.1 L1138.5,237.9 L1139.5,243.8 L1140.5,249.5 L1141.5,254.8 L1142.5,260.0 L1143.5,265.1 L1144.5,270.3 L1145.5,275.7 L1146.5,281.3 L1147.5,287.1 L1148.5,292.8 L1149.5,298.5 L1150.5,304.3 L1151.5,310.0 L1152.5,315.6 L1153.5,320.6 L1154.5,324.9 L1155.5,328.9 L1156.5,332.9 L1157.5,336.9 L1158.5,340.8 L1159.5,344.5 L1160.5,347.9 L1161.5,351.3 L1162.5,354.6 L1163.5,358.0 L1164.5,361.4 L1165.5,364.6 L1166.5,367.7 L1167.5,370.6 L1168.5,373.5 L1169.5,376.3 L1170.5,379.2 L1171.5,382.0 L1172.5,384.9 L1173.5,387.5 L1174.5,389.7 L1175.5,391.4 L1176.5,393.0 L1177.5,394.5 L1178.5,396.1 L1179.5,397.5 L1180.5,398.7 L1181.5,399.5 L1182.5,400.1 L1183.5,400.6 L1184.5,400.5 L1185.5,399.9 L1186.5,399.3 L1187.5,398.4 L1188.5,397.1 L1189.5,395.6 L1190.5,394.1 L1191.5,392.5 L1192.5,390.9 L1193.5,389.1 L1194.5,386.8 L1195.5,384.0 L1196.5,381.2 L1197.5,378.3 L1198.5,375.5 L1199.5,372.6 L1200.5,369.7 L1201.5,366.8 L1202.5,363.7 L1203.5,360.4 L1204.5,357.0 L1205.5,353.6 L1206.5,350.3 L1207.5,346.9 L1208.5,343.4 L1209.5,339.7 L1210.5,335.7 L1211.5,331.7 L1212.5,327.7 L1213.5,323.7 L1214.5,319.3 L1215.5,314.0 L1216.5,308.3 L1217.5,302.6 L1218.5,296.8 L1219.5,291.1 L1220.5,285.3 L1221.5,279.6 L1222.5,274.0 L1223.5,268.7 L1224.5,263.5 L1225.5,258.4 L1226.5,253.3 L1227.5,247.8 L1228.5,242.1 L1229.5,236.2 L1230.5,230.3 L1231.5,224.4 L1232.5,218.5 L1233.5,212.6 L1234.5,206.8 L1235.5,201.0 L1236.5,195.5 L1237.5,190.1 L1238.5,184.7 L1239.5,179.4 L1240.5,174.0 L1241.5,168.7 L1242.5,163.3 L1243.5,158.0 L1244.5,152.6 L1245.5,147.3 L1246.5,141.9 L1247.5,136.6 L1248.5,131.2 L1249.5,125.9 L1250.5,120.5 L1251.5,115.2 L1252.5,110.5 L1253.5,107.2 L1254.5,104.9 L1255.5,102.6 L1256.5,100.4 L1257.5,98.1 L1258.5,95.9 L1259.5,93.7 L1260.5,91.4 L1261.5,89.2 L1262.5,87.3 L1263.5,87.0 L1264.5,88.5 L1265.5,90.8 L1266.5,93.0 L1267.5,95.2 L1268.5,97.5 L1269.5,99.7 L1270.5,101.9 L1271.5,104.2 L1272.5,106.4 L1273.5,108.7" fill="none" stroke="#1414ff" stroke-opacity="0.36" stroke-width="2.4" filter="url(#bl1)"/><path d="M697.5,387.1 L698.5,389.3 L699.5,391.1 L700.5,392.7 L701.5,394.2 L702.5,395.8 L703.5,397.3 L704.5,398.5 L705.5,399.3 L706.5,400.0 L707.5,400.5 L708.5,400.5 L709.5,400.0 L710.5,399.4 L711.5,398.6 L712.5,397.4 L713.5,395.9 L714.5,394.4 L715.5,392.8 L716.5,391.3 L717.5,389.5 L718.5,387.3 L719.5,384.6 L720.5,381.7 L721.5,378.9 L722.5,376.0 L723.5,373.2 L724.5,370.3 L725.5,367.4 L726.5,364.3 L727.5,361.0 L728.5,357.7 L729.5,354.3 L730.5,350.9 L731.5,347.6 L732.5,344.1 L733.5,340.4 L734.5,336.5 L735.5,332.5 L736.5,328.5 L737.5,324.5 L738.5,320.2 L739.5,315.1 L740.5,309.5 L741.5,303.7 L742.5,298.0 L743.5,292.2 L744.5,286.5 L745.5,280.8 L746.5,275.1 L747.5,269.7 L748.5,264.6 L749.5,259.5 L750.5,254.3 L751.5,249.0 L752.5,243.2 L753.5,237.4 L754.5,231.5 L755.5,225.6 L756.5,219.7 L757.5,213.8 L758.5,207.9 L759.5,202.1 L760.5,196.6 L761.5,191.2 L762.5,185.8 L763.5,180.5 L764.5,175.1 L765.5,169.8 L766.5,164.4 L767.5,159.1 L768.5,153.7 L769.5,148.3 L770.5,143.0 L771.5,137.6 L772.5,132.3 L773.5,126.9 L774.5,121.6 L775.5,116.2 L776.5,111.4 L777.5,107.8 L778.5,105.3 L779.5,103.1 L780.5,100.8 L781.5,98.6 L782.5,96.4 L783.5,94.1 L784.5,91.9 L785.5,89.6 L786.5,87.6 L787.5,86.8 L788.5,88.1 L789.5,90.3 L790.5,92.5 L791.5,94.8 L792.5,97.0 L793.5,99.3 L794.5,101.5 L795.5,103.7 L796.5,106.0 L797.5,108.7 L798.5,112.8 L799.5,117.8 L800.5,123.2 L801.5,128.5 L802.5,133.9 L803.5,139.2 L804.5,144.6 L805.5,149.9 L806.5,155.3 L807.5,160.7 L808.5,166.0 L809.5,171.4 L810.5,176.7 L811.5,182.1 L812.5,187.4 L813.5,192.8 L814.5,198.2 L815.5,203.9 L816.5,209.7 L817.5,215.6 L818.5,221.5 L819.5,227.4 L820.5,233.2 L821.5,239.1 L822.5,245.0 L823.5,250.6 L824.5,255.9 L825.5,261.0 L826.5,266.1 L827.5,271.3 L828.5,276.8 L829.5,282.5 L830.5,288.2 L831.5,294.0 L832.5,299.7 L833.5,305.4 L834.5,311.2 L835.5,316.7 L836.5,321.5 L837.5,325.7 L838.5,329.7 L839.5,333.7 L840.5,337.7 L841.5,341.6 L842.5,345.2 L843.5,348.6 L844.5,351.9 L845.5,355.3 L846.5,358.7 L847.5,362.0 L848.5,365.3 L849.5,368.3 L850.5,371.2 L851.5,374.0 L852.5,376.9 L853.5,379.7 L854.5,382.6 L855.5,385.4 L856.5,388.0 L857.5,390.1 L858.5,391.7 L859.5,393.3 L860.5,394.8 L861.5,396.4 L862.5,397.8 L863.5,398.8 L864.5,399.6 L865.5,400.2 L866.5,400.6 L867.5,400.4 L868.5,399.8 L869.5,399.1 L870.5,398.2 L871.5,396.9 L872.5,395.3 L873.5,393.8 L874.5,392.2 L875.5,390.6 L876.5,388.8 L877.5,386.3 L878.5,383.4 L879.5,380.6 L880.5,377.7 L881.5,374.9 L882.5,372.0 L883.5,369.2 L884.5,366.2 L885.5,363.0 L886.5,359.7 L887.5,356.3 L888.5,353.0 L889.5,349.6 L890.5,346.2 L891.5,342.7 L892.5,338.9 L893.5,334.9 L894.5,330.9 L895.5,326.9 L896.5,322.8 L897.5,318.3 L898.5,312.9 L899.5,307.2 L900.5,301.4 L901.5,295.7 L902.5,289.9 L903.5,284.2 L904.5,278.5 L905.5,272.9 L906.5,267.6 L907.5,262.5 L908.5,257.4 L909.5,252.2 L910.5,246.7 L911.5,240.9 L912.5,235.0 L913.5,229.1 L914.5,223.2 L915.5,217.4 L916.5,211.5 L917.5,205.6 L918.5,199.9 L919.5,194.4 L920.5,189.0 L921.5,183.7 L922.5,178.3 L923.5,173.0 L924.5,167.6 L925.5,162.3 L926.5,156.9 L927.5,151.6 L928.5,146.2 L929.5,140.9 L930.5,135.5 L931.5,130.1 L932.5,124.8 L933.5,119.4 L934.5,114.1 L935.5,109.6 L936.5,106.7 L937.5,104.4 L938.5,102.2 L939.5,99.9 L940.5,97.7 L941.5,95.5 L942.5,93.2 L943.5,91.0 L944.5,88.7 L945.5,87.1 L946.5,87.2 L947.5,89.0 L948.5,91.2 L949.5,93.4 L950.5,95.7 L951.5,97.9 L952.5,100.2 L953.5,102.4 L954.5,104.6 L955.5,106.9 L956.5,110.0 L957.5,114.6 L958.5,120.0 L959.5,125.3 L960.5,130.7 L961.5,136.0 L962.5,141.4 L963.5,146.7 L964.5,152.1 L965.5,157.4 L966.5,162.8 L967.5,168.1 L968.5,173.5 L969.5,178.9 L970.5,184.2 L971.5,189.6 L972.5,194.9 L973.5,200.4 L974.5,206.2 L975.5,212.1 L976.5,217.9 L977.5,223.8 L978.5,229.7 L979.5,235.6 L980.5,241.5 L981.5,247.2 L982.5,252.7 L983.5,257.9 L984.5,263.0 L985.5,268.2 L986.5,273.4 L987.5,279.0 L988.5,284.8 L989.5,290.5 L990.5,296.2 L991.5,302.0 L992.5,307.7 L993.5,313.5 L994.5,318.8 L995.5,323.3 L996.5,327.3 L997.5,331.3 L998.5,335.3 L999.5,339.3 L1000.5,343.1 L1001.5,346.6 L1002.5,349.9 L1003.5,353.3 L1004.5,356.7 L1005.5,360.0 L1006.5,363.3 L1007.5,366.5 L1008.5,369.5 L1009.5,372.3 L1010.5,375.2 L1011.5,378.0 L1012.5,380.9 L1013.5,383.7 L1014.5,386.5 L1015.5,389.0 L1016.5,390.8 L1017.5,392.3 L1018.5,393.9 L1019.5,395.5 L1020.5,397.0 L1021.5,398.3 L1022.5,399.2 L1023.5,399.8 L1024.5,400.4 L1025.5,400.6 L1026.5,400.2 L1027.5,399.5 L1028.5,398.8 L1029.5,397.7 L1030.5,396.2 L1031.5,394.7 L1032.5,393.1 L1033.5,391.6 L1034.5,389.9 L1035.5,387.8 L1036.5,385.1 L1037.5,382.3 L1038.5,379.4 L1039.5,376.6 L1040.5,373.7 L1041.5,370.9 L1042.5,368.0 L1043.5,365.0 L1044.5,361.7 L1045.5,358.3 L1046.5,355.0 L1047.5,351.6 L1048.5,348.2 L1049.5,344.8 L1050.5,341.2 L1051.5,337.3 L1052.5,333.3 L1053.5,329.3 L1054.5,325.3 L1055.5,321.1 L1056.5,316.1 L1057.5,310.6 L1058.5,304.9 L1059.5,299.1 L1060.5,293.4 L1061.5,287.6 L1062.5,281.9 L1063.5,276.2 L1064.5,270.8 L1065.5,265.6 L1066.5,260.5 L1067.5,255.4 L1068.5,250.1 L1069.5,244.4 L1070.5,238.5 L1071.5,232.6 L1072.5,226.8 L1073.5,220.9 L1074.5,215.0 L1075.5,209.1 L1076.5,203.3 L1077.5,197.7 L1078.5,192.2 L1079.5,186.9 L1080.5,181.5 L1081.5,176.2 L1082.5,170.8 L1083.5,165.5 L1084.5,160.1 L1085.5,154.8 L1086.5,149.4 L1087.5,144.1 L1088.5,138.7 L1089.5,133.4 L1090.5,128.0 L1091.5,122.6 L1092.5,117.3 L1093.5,112.3 L1094.5,108.4 L1095.5,105.8 L1096.5,103.5 L1097.5,101.3 L1098.5,99.0 L1099.5,96.8 L1100.5,94.6 L1101.5,92.3 L1102.5,90.1 L1103.5,87.8 L1104.5,86.7 L1105.5,87.7 L1106.5,89.9 L1107.5,92.1 L1108.5,94.3 L1109.5,96.6 L1110.5,98.8 L1111.5,101.1 L1112.5,103.3 L1113.5,105.5 L1114.5,108.1 L1115.5,111.8 L1116.5,116.8 L1117.5,122.1 L1118.5,127.5 L1119.5,132.8 L1120.5,138.2 L1121.5,143.5 L1122.5,148.9 L1123.5,154.2 L1124.5,159.6 L1125.5,164.9 L1126.5,170.3 L1127.5,175.6 L1128.5,181.0 L1129.5,186.4 L1130.5,191.7 L1131.5,197.1 L1132.5,202.7 L1133.5,208.5 L1134.5,214.4 L1135.5,220.3 L1136.5,226.2 L1137.5,232.1 L1138.5,237.9 L1139.5,243.8 L1140.5,249.5 L1141.5,254.8 L1142.5,260.0 L1143.5,265.1 L1144.5,270.3 L1145.5,275.7 L1146.5,281.3 L1147.5,287.1 L1148.5,292.8 L1149.5,298.5 L1150.5,304.3 L1151.5,310.0 L1152.5,315.6 L1153.5,320.6 L1154.5,324.9 L1155.5,328.9 L1156.5,332.9 L1157.5,336.9 L1158.5,340.8 L1159.5,344.5 L1160.5,347.9 L1161.5,351.3 L1162.5,354.6 L1163.5,358.0 L1164.5,361.4 L1165.5,364.6 L1166.5,367.7 L1167.5,370.6 L1168.5,373.5 L1169.5,376.3 L1170.5,379.2 L1171.5,382.0 L1172.5,384.9 L1173.5,387.5 L1174.5,389.7 L1175.5,391.4 L1176.5,393.0 L1177.5,394.5 L1178.5,396.1 L1179.5,397.5 L1180.5,398.7 L1181.5,399.5 L1182.5,400.1 L1183.5,400.6 L1184.5,400.5 L1185.5,399.9 L1186.5,399.3 L1187.5,398.4 L1188.5,397.1 L1189.5,395.6 L1190.5,394.1 L1191.5,392.5 L1192.5,390.9 L1193.5,389.1 L1194.5,386.8 L1195.5,384.0 L1196.5,381.2 L1197.5,378.3 L1198.5,375.5 L1199.5,372.6 L1200.5,369.7 L1201.5,366.8 L1202.5,363.7 L1203.5,360.4 L1204.5,357.0 L1205.5,353.6 L1206.5,350.3 L1207.5,346.9 L1208.5,343.4 L1209.5,339.7 L1210.5,335.7 L1211.5,331.7 L1212.5,327.7 L1213.5,323.7 L1214.5,319.3 L1215.5,314.0 L1216.5,308.3 L1217.5,302.6 L1218.5,296.8 L1219.5,291.1 L1220.5,285.3 L1221.5,279.6 L1222.5,274.0 L1223.5,268.7 L1224.5,263.5 L1225.5,258.4 L1226.5,253.3 L1227.5,247.8 L1228.5,242.1 L1229.5,236.2 L1230.5,230.3 L1231.5,224.4 L1232.5,218.5 L1233.5,212.6 L1234.5,206.8 L1235.5,201.0 L1236.5,195.5 L1237.5,190.1 L1238.5,184.7 L1239.5,179.4 L1240.5,174.0 L1241.5,168.7 L1242.5,163.3 L1243.5,158.0 L1244.5,152.6 L1245.5,147.3 L1246.5,141.9 L1247.5,136.6 L1248.5,131.2 L1249.5,125.9 L1250.5,120.5 L1251.5,115.2 L1252.5,110.5 L1253.5,107.2 L1254.5,104.9 L1255.5,102.6 L1256.5,100.4 L1257.5,98.1 L1258.5,95.9 L1259.5,93.7 L1260.5,91.4 L1261.5,89.2 L1262.5,87.3 L1263.5,87.0 L1264.5,88.5 L1265.5,90.8 L1266.5,93.0 L1267.5,95.2 L1268.5,97.5 L1269.5,99.7 L1270.5,101.9 L1271.5,104.2 L1272.5,106.4 L1273.5,108.7" fill="none" stroke="#1414ff" stroke-opacity="0.12" stroke-width="8" filter="url(#bl3)"/><line x1="620.8" y1="150" x2="537.2" y2="496.9" stroke="#1414ff" stroke-opacity="0.26" stroke-width="1.8" filter="url(#bl1)"/><line x1="628.8" y1="278" x2="598.8" y2="496.9" stroke="#1414ff" stroke-opacity="0.18" stroke-width="2" filter="url(#bl1)"/><line x1="636.8" y1="150" x2="720.4" y2="496.9" stroke="#1414ff" stroke-opacity="0.26" stroke-width="1.8" filter="url(#bl1)"/><line x1="628.8" y1="278" x2="658.8" y2="496.9" stroke="#1414ff" stroke-opacity="0.18" stroke-width="2" filter="url(#bl1)"/><line x1="779.4" y1="150" x2="695.8" y2="496.9" stroke="#1414ff" stroke-opacity="0.26" stroke-width="1.8" filter="url(#bl1)"/><line x1="787.4" y1="278" x2="757.4" y2="496.9" stroke="#1414ff" stroke-opacity="0.18" stroke-width="2" filter="url(#bl1)"/><line x1="795.4" y1="150" x2="879.0" y2="496.9" stroke="#1414ff" stroke-opacity="0.26" stroke-width="1.8" filter="url(#bl1)"/><line x1="787.4" y1="278" x2="817.4" y2="496.9" stroke="#1414ff" stroke-opacity="0.18" stroke-width="2" filter="url(#bl1)"/><line x1="938.0" y1="150" x2="854.4" y2="496.9" stroke="#1414ff" stroke-opacity="0.26" stroke-width="1.8" filter="url(#bl1)"/><line x1="946.0" y1="278" x2="916.0" y2="496.9" stroke="#1414ff" stroke-opacity="0.18" stroke-width="2" filter="url(#bl1)"/><line x1="954.0" y1="150" x2="1037.6" y2="496.9" stroke="#1414ff" stroke-opacity="0.26" stroke-width="1.8" filter="url(#bl1)"/><line x1="946.0" y1="278" x2="976.0" y2="496.9" stroke="#1414ff" stroke-opacity="0.18" stroke-width="2" filter="url(#bl1)"/><line x1="1096.6" y1="150" x2="1013.0" y2="496.9" stroke="#1414ff" stroke-opacity="0.26" stroke-width="1.8" filter="url(#bl1)"/><line x1="1104.6" y1="278" x2="1074.6" y2="496.9" stroke="#1414ff" stroke-opacity="0.18" stroke-width="2" filter="url(#bl1)"/><line x1="1112.6" y1="150" x2="1196.2" y2="496.9" stroke="#1414ff" stroke-opacity="0.26" stroke-width="1.8" filter="url(#bl1)"/><line x1="1104.6" y1="278" x2="1134.6" y2="496.9" stroke="#1414ff" stroke-opacity="0.18" stroke-width="2" filter="url(#bl1)"/><line x1="1255.2" y1="150" x2="1171.6" y2="496.9" stroke="#1414ff" stroke-opacity="0.26" stroke-width="1.8" filter="url(#bl1)"/><line x1="1263.2" y1="278" x2="1233.2" y2="496.9" stroke="#1414ff" stroke-opacity="0.18" stroke-width="2" filter="url(#bl1)"/><line x1="1271.2" y1="150" x2="1354.8" y2="496.9" stroke="#1414ff" stroke-opacity="0.26" stroke-width="1.8" filter="url(#bl1)"/><line x1="1263.2" y1="278" x2="1293.2" y2="496.9" stroke="#1414ff" stroke-opacity="0.18" stroke-width="2" filter="url(#bl1)"/></g><g clip-path="url(#clipC1L)"><path d="M290.3,593 L150,593 L116,690 L116,830 L185,915 L290.3,915 Z" fill="#1e1ef5" fill-opacity="0.075" filter="url(#bl6)"/><rect x="114" y="591" width="178" height="353" fill="#fff" filter="url(#noiseC)"/><rect x="260" y="629" width="34" height="47" fill="#1e1ef5" fill-opacity="0.45" filter="url(#bl3)"/><rect x="262" y="632" width="30" height="28" fill="#1e1ef5" fill-opacity="0.5" filter="url(#bl2)"/><ellipse cx="282" cy="647" rx="8" ry="10" fill="#1e1ef5" fill-opacity="0.65" filter="url(#bl2)"/><rect x="266" y="746" width="28" height="44" fill="none" stroke="#1e1ef5" stroke-opacity="0.38" stroke-width="7" filter="url(#bl2)"/><rect x="266" y="746" width="26" height="44" fill="#1e1ef5" fill-opacity="0.12" filter="url(#bl2)"/><rect x="267" y="854" width="27" height="40" fill="#1e1ef5" fill-opacity="0.14" filter="url(#bl4)"/><rect x="114" y="591" width="178" height="353" fill="#fff" filter="url(#noiseC2)"/><rect x="274" y="633" width="20" height="29" fill="#1e1ef5" fill-opacity="0.45" filter="url(#bl2)"/></g><g clip-path="url(#clipC1R)"><path d="M288.3,623.5 L294.3,623.5 L318.8,635.5 L319.8,640.0 L319.8,661.0 L318.8,664.0 L296.3,678.0 L288.3,678.0 Z" fill="url(#gC1)" filter="url(#bl1_5)"/><path d="M288.3,741.0 L294.3,741.0 L318.8,753.0 L319.8,757.5 L319.8,778.5 L318.8,781.5 L296.3,795.5 L288.3,795.5 Z" fill="url(#gC1)" filter="url(#bl1_5)"/><path d="M288.3,856.1 L294.3,856.1 L318.8,868.1 L319.8,872.6 L319.8,893.6 L318.8,896.6 L296.3,910.6 L288.3,910.6 Z" fill="url(#gC1)" filter="url(#bl1_5)"/></g><g clip-path="url(#clipC2L)"><path d="M687.6,593 L563,593 L515,655.5 L515,839 L600,945 L687.6,945 Z" fill="#1e1ef5" fill-opacity="0.15" filter="url(#bl2)"/><rect x="513" y="591" width="176" height="353" fill="#fff" filter="url(#noiseC)"/><rect x="640" y="612" width="52" height="84" fill="#1e1ef5" fill-opacity="0.6" filter="url(#bl3)"/><rect x="646" y="617" width="46" height="60" fill="#1e1ef5" fill-opacity="0.85" filter="url(#bl3)"/><ellipse cx="677" cy="643" rx="11" ry="13" fill="#000050" fill-opacity="0.35" filter="url(#bl3)"/><rect x="648" y="731" width="43" height="76" fill="none" stroke="#1e1ef5" stroke-opacity="0.5" stroke-width="8" filter="url(#bl2)"/><path d="M648,731 L648,807 L691,807" fill="none" stroke="#1e1ef5" stroke-opacity="0.4" stroke-width="7" filter="url(#bl2)"/><rect x="650" y="735" width="40" height="70" fill="#1e1ef5" fill-opacity="0.25" filter="url(#bl2)"/><rect x="650" y="842" width="42" height="72" fill="#1e1ef5" fill-opacity="0.18" filter="url(#bl3)"/><rect x="513" y="591" width="176" height="353" fill="#fff" filter="url(#noiseC2)"/><rect x="646" y="618" width="46" height="46" fill="#1e1ef5" fill-opacity="0.55" filter="url(#bl3)"/><ellipse cx="676" cy="643" rx="9" ry="11" fill="#00005a" fill-opacity="0.45" filter="url(#bl3)"/></g><g clip-path="url(#clipC2R)"><path d="M685.6,605.6 L690.6,605.6 L730.6,629.0 L732.6,633.0 L732.6,650.0 L730.6,652.4 L734.8,662.0 L734.2,675.7 L725.6,682.0 L690.6,698.0 L685.6,698.0 Z" fill="#3030f2" fill-opacity="0.46" filter="url(#bl2)"/><ellipse cx="699.6" cy="651.7" rx="16" ry="30" fill="#3030f2" fill-opacity="0.16" filter="url(#bl6)"/><path d="M685.6,722.3 L690.6,722.3 L730.6,745.7 L732.6,749.7 L732.6,766.7 L730.6,769.1 L734.8,778.7 L734.2,792.4 L725.6,798.7 L690.6,814.7 L685.6,814.7 Z" fill="#3030f2" fill-opacity="0.46" filter="url(#bl2)"/><ellipse cx="699.6" cy="768.4" rx="16" ry="30" fill="#3030f2" fill-opacity="0.16" filter="url(#bl6)"/><path d="M685.6,837.3 L690.6,837.3 L730.6,860.7 L732.6,864.7 L732.6,881.7 L730.6,884.1 L734.8,893.7 L734.2,907.4 L725.6,913.7 L690.6,929.7 L685.6,929.7 Z" fill="#3030f2" fill-opacity="0.46" filter="url(#bl2)"/><ellipse cx="699.6" cy="883.4" rx="16" ry="30" fill="#3030f2" fill-opacity="0.16" filter="url(#bl6)"/></g><g clip-path="url(#clipC3L)"><path d="M1087.6,593 L954,593 L915,641 L915,842 L991,945 L1087.6,945 Z" fill="#1e1ef5" fill-opacity="0.18" filter="url(#bl2)"/><rect x="912" y="591" width="177" height="353" fill="#fff" filter="url(#noiseC)"/><path d="M1025,608 L1092,608 L1092,735 L1072,735 L1052,690 L1030,675 Z" fill="#1e1ef5" fill-opacity="0.35" filter="url(#bl3)"/><rect x="1028" y="611" width="64" height="62" fill="#1e1ef5" fill-opacity="0.75" filter="url(#bl3)"/><ellipse cx="1075" cy="640" rx="13" ry="14" fill="#000060" fill-opacity="0.3" filter="url(#bl3)"/><rect x="1040" y="730" width="50" height="85" fill="none" stroke="#1e1ef5" stroke-opacity="0.45" stroke-width="8" filter="url(#bl2)"/><rect x="1042" y="733" width="48" height="80" fill="#1e1ef5" fill-opacity="0.22" filter="url(#bl2)"/><rect x="1040" y="830" width="52" height="115" fill="#1e1ef5" fill-opacity="0.14" filter="url(#bl4)"/><rect x="912" y="591" width="177" height="353" fill="#fff" filter="url(#noiseC2)"/><rect x="1034" y="613" width="58" height="50" fill="#1e1ef5" fill-opacity="0.45" filter="url(#bl3)"/><ellipse cx="1074" cy="640" rx="11" ry="12" fill="#00005a" fill-opacity="0.35" filter="url(#bl3)"/></g><g clip-path="url(#clipC3R)"><path d="M1085.6,585.0 L1114.0,585.0 L1114.0,592.0 L1146.0,615.0 L1152.0,622.0 L1154.0,632.0 L1153.5,650.0 L1152.0,656.0 L1154.0,664.0 L1152.0,676.0 L1146.0,684.0 L1112.5,709.5 L1146.0,728.0 L1152.0,734.0 L1154.0,744.0 L1153.5,766.0 L1152.0,772.0 L1154.0,780.0 L1152.0,794.0 L1146.0,801.0 L1112.5,826.0 L1146.0,845.0 L1152.0,851.0 L1154.0,861.0 L1153.5,882.0 L1152.0,888.0 L1154.0,896.0 L1152.0,910.0 L1146.0,918.0 L1125.0,950.0 L1085.6,950.0 Z" fill="#3030f2" fill-opacity="0.50" filter="url(#bl2)"/><ellipse cx="1103.6" cy="651.5" rx="20" ry="34" fill="#3030f2" fill-opacity="0.10" filter="url(#bl6)"/><ellipse cx="1103.6" cy="768.0" rx="20" ry="34" fill="#3030f2" fill-opacity="0.10" filter="url(#bl6)"/><ellipse cx="1103.6" cy="884.5" rx="20" ry="34" fill="#3030f2" fill-opacity="0.10" filter="url(#bl6)"/><circle cx="1092.6" cy="647" r="6.5" fill="none" stroke="#3030f2" stroke-opacity="0.55" stroke-width="1.8" filter="url(#bl0_5)"/><path d="M1087.6,613 Q1127.6,647 1087.6,681" fill="none" stroke="#3030f2" stroke-opacity="0.2" stroke-width="7" filter="url(#bl3)"/><circle cx="1092.6" cy="766" r="6.5" fill="none" stroke="#3030f2" stroke-opacity="0.55" stroke-width="1.8" filter="url(#bl0_5)"/><path d="M1087.6,732 Q1127.6,766 1087.6,800" fill="none" stroke="#3030f2" stroke-opacity="0.2" stroke-width="7" filter="url(#bl3)"/><circle cx="1092.6" cy="884" r="6.5" fill="none" stroke="#3030f2" stroke-opacity="0.55" stroke-width="1.8" filter="url(#bl0_5)"/><path d="M1087.6,850 Q1127.6,884 1087.6,918" fill="none" stroke="#3030f2" stroke-opacity="0.2" stroke-width="7" filter="url(#bl3)"/></g><circle cx="290.3" cy="766.5" r="5.6" fill="#fff"/><rect x="114.85" y="45.2" width="550.4499999999999" height="441.8" fill="none" stroke="#000" stroke-width="2.1"/><rect x="707.55" y="43.8" width="556.1500000000001" height="443.09999999999997" fill="none" stroke="#000" stroke-width="2.1"/><rect x="114.5" y="591.0" width="352.5" height="352.29999999999995" fill="none" stroke="#000" stroke-width="2.4"/><rect x="513.0" y="591.0" width="352.0" height="352.29999999999995" fill="none" stroke="#000" stroke-width="2.4"/><rect x="912.5" y="591.0" width="352.29999999999995" height="352.29999999999995" fill="none" stroke="#000" stroke-width="2.4"/><line x1="115.29" y1="108.2" x2="665.3" y2="108.2" stroke="#000" stroke-width="2.2" stroke-dasharray="9.5 9.91"/><line x1="707.16" y1="107.0" x2="1263.7" y2="107.0" stroke="#000" stroke-width="2.2" stroke-dasharray="9.6 10.04"/><line x1="114.85" y1="107.6" x2="128.35" y2="107.6" stroke="#000" stroke-width="2.2"/><line x1="114.85" y1="266.4" x2="128.35" y2="266.4" stroke="#000" stroke-width="2.2"/><line x1="114.85" y1="424.0" x2="128.35" y2="424.0" stroke="#000" stroke-width="2.2"/><line x1="707.55" y1="266.3" x2="722.05" y2="266.3" stroke="#40358a" stroke-width="2.7"/><line x1="707.55" y1="424.4" x2="722.05" y2="424.4" stroke="#40358a" stroke-width="2.7"/><line x1="114.5" y1="606.0" x2="132.5" y2="606.0" stroke="#000" stroke-width="2.6"/><line x1="114.5" y1="767.1" x2="132.5" y2="767.1" stroke="#000" stroke-width="2.6"/><line x1="114.5" y1="928.2" x2="132.5" y2="928.2" stroke="#000" stroke-width="2.6"/><line x1="129.5" y1="943.3" x2="129.5" y2="925.3" stroke="#000" stroke-width="2.6"/><line x1="290.3" y1="943.3" x2="290.3" y2="925.3" stroke="#000" stroke-width="2.2"/><line x1="290.3" y1="592.3" x2="290.3" y2="925.3" stroke="#a00c0c" stroke-width="1.5" stroke-dasharray="4.9 4.29" stroke-dashoffset="4.3"/><line x1="513.0" y1="606.0" x2="531.0" y2="606.0" stroke="#000" stroke-width="2.6"/><line x1="513.0" y1="767.1" x2="531.0" y2="767.1" stroke="#000" stroke-width="2.6"/><line x1="513.0" y1="928.2" x2="531.0" y2="928.2" stroke="#000" stroke-width="2.6"/><line x1="528.0" y1="943.3" x2="528.0" y2="925.3" stroke="#000" stroke-width="2.6"/><line x1="687.6" y1="943.3" x2="687.6" y2="925.3" stroke="#000" stroke-width="2.2"/><line x1="687.6" y1="592.3" x2="687.6" y2="925.3" stroke="#a00c0c" stroke-width="1.5" stroke-dasharray="4.9 4.29" stroke-dashoffset="4.3"/><line x1="912.5" y1="606.0" x2="930.5" y2="606.0" stroke="#000" stroke-width="2.6"/><line x1="912.5" y1="767.1" x2="930.5" y2="767.1" stroke="#000" stroke-width="2.6"/><line x1="912.5" y1="928.2" x2="930.5" y2="928.2" stroke="#000" stroke-width="2.6"/><line x1="927.5" y1="943.3" x2="927.5" y2="925.3" stroke="#000" stroke-width="2.6"/><line x1="1087.6" y1="943.3" x2="1087.6" y2="925.3" stroke="#000" stroke-width="2.2"/><line x1="1087.6" y1="592.3" x2="1087.6" y2="925.3" stroke="#a00c0c" stroke-width="1.5" stroke-dasharray="4.9 4.29" stroke-dashoffset="4.3"/><text x="13.70" y="25.40" font-size="32.94" fill="#000" style="" textLength="40.40" lengthAdjust="spacingAndGlyphs">(a)</text><text x="667.30" y="26.40" font-size="32.12" fill="#000" style="" textLength="43.30" lengthAdjust="spacingAndGlyphs">(b)</text><text x="15.80" y="577.00" font-size="33.89" fill="#000" style="" textLength="37.70" lengthAdjust="spacingAndGlyphs">(c)</text><text x="127.10" y="89.80" font-size="31.60" fill="#c0290f" style="" textLength="32.70" lengthAdjust="spacingAndGlyphs">80</text><text x="165.80" y="89.80" font-size="31.60" fill="#c0290f" style="" textLength="38.60" lengthAdjust="spacingAndGlyphs">eV</text><text x="59.50" y="119.30" font-size="30.24" fill="#000" style="" textLength="42.30" lengthAdjust="spacingAndGlyphs">0.0</text><text x="59.50" y="275.40" font-size="30.24" fill="#000" style="" textLength="43.20" lengthAdjust="spacingAndGlyphs">0.5</text><text x="59.80" y="431.00" font-size="29.00" fill="#000" style="" textLength="42.10" lengthAdjust="spacingAndGlyphs">1.0</text><text x="819.70" y="94.70" font-size="29.34" fill="#000" style="" textLength="46.90" lengthAdjust="spacingAndGlyphs">DP</text><text x="845.00" y="229.00" font-size="26.09" fill="#c0290f" style="" textLength="18.40" lengthAdjust="spacingAndGlyphs">S</text><text x="746.00" y="427.20" font-size="26.09" fill="#000" style="" textLength="18.80" lengthAdjust="spacingAndGlyphs">B</text><text x="1039.90" y="478.00" font-size="29.34" fill="#000" style="" textLength="215.10" lengthAdjust="spacingAndGlyphs">Bi-termination</text><text x="208.50" y="580.00" font-size="30.46" fill="#9a1f10" style="font-style:italic;" textLength="23.50" lengthAdjust="spacingAndGlyphs">E</text><text x="232.80" y="584.20" font-size="23.58" fill="#9a1f10" style="" textLength="11.10" lengthAdjust="spacingAndGlyphs">b</text><text x="249.60" y="585.20" font-size="36.17" fill="#9a1f10" style="" textLength="25.90" lengthAdjust="spacingAndGlyphs">=</text><text x="280.70" y="580.30" font-size="29.34" fill="#9a1f10" style="" textLength="43.20" lengthAdjust="spacingAndGlyphs">0.0</text><text x="334.70" y="580.30" font-size="29.34" fill="#9a1f10" style="" textLength="39.40" lengthAdjust="spacingAndGlyphs">eV</text><text x="610.60" y="580.00" font-size="30.46" fill="#9a1f10" style="font-style:italic;" textLength="23.50" lengthAdjust="spacingAndGlyphs">E</text><text x="634.90" y="584.20" font-size="23.58" fill="#9a1f10" style="" textLength="11.10" lengthAdjust="spacingAndGlyphs">b</text><text x="651.70" y="585.20" font-size="36.17" fill="#9a1f10" style="" textLength="25.90" lengthAdjust="spacingAndGlyphs">=</text><text x="682.80" y="580.30" font-size="29.34" fill="#9a1f10" style="" textLength="43.20" lengthAdjust="spacingAndGlyphs">0.2</text><text x="736.80" y="580.30" font-size="29.34" fill="#9a1f10" style="" textLength="39.40" lengthAdjust="spacingAndGlyphs">eV</text><text x="1017.70" y="580.00" font-size="30.46" fill="#9a1f10" style="font-style:italic;" textLength="23.50" lengthAdjust="spacingAndGlyphs">E</text><text x="1042.00" y="584.20" font-size="23.58" fill="#9a1f10" style="" textLength="11.10" lengthAdjust="spacingAndGlyphs">b</text><text x="1058.80" y="585.20" font-size="36.17" fill="#9a1f10" style="" textLength="25.90" lengthAdjust="spacingAndGlyphs">=</text><text x="1089.90" y="580.30" font-size="29.34" fill="#9a1f10" style="" textLength="42.40" lengthAdjust="spacingAndGlyphs">0.4</text><text x="1143.90" y="580.30" font-size="29.34" fill="#9a1f10" style="" textLength="39.40" lengthAdjust="spacingAndGlyphs">eV</text><text x="136.90" y="930.20" font-size="22.68" fill="#000" style="" textLength="143.30" lengthAdjust="spacingAndGlyphs">Experiment</text><text x="308.20" y="931.00" font-size="23.50" fill="#000" style="" textLength="142.30" lengthAdjust="spacingAndGlyphs">Calculation</text><text x="84.00" y="978.60" font-size="30.55" fill="#000" style="" textLength="67.30" lengthAdjust="spacingAndGlyphs">−1.0</text><text x="428.50" y="978.60" font-size="30.55" fill="#000" style="" textLength="43.90" lengthAdjust="spacingAndGlyphs">1.0</text><text x="231.30" y="1020.80" font-size="33.26" fill="#000" style="font-style:italic;font-weight:bold;" textLength="14.20" lengthAdjust="spacingAndGlyphs">k</text><text x="250.20" y="1025.90" font-size="25.95" fill="#000" style="font-style:italic;" textLength="12.90" lengthAdjust="spacingAndGlyphs">x</text><text x="279.30" y="1021.00" font-size="37.79" fill="#000" style="" textLength="90.80" lengthAdjust="spacingAndGlyphs">(1/Å)</text><text x="535.40" y="930.20" font-size="22.68" fill="#000" style="" textLength="143.30" lengthAdjust="spacingAndGlyphs">Experiment</text><text x="706.70" y="931.00" font-size="23.50" fill="#000" style="" textLength="142.30" lengthAdjust="spacingAndGlyphs">Calculation</text><text x="482.50" y="978.60" font-size="30.55" fill="#000" style="" textLength="67.30" lengthAdjust="spacingAndGlyphs">−1.0</text><text x="827.00" y="978.60" font-size="30.55" fill="#000" style="" textLength="43.90" lengthAdjust="spacingAndGlyphs">1.0</text><text x="629.80" y="1020.80" font-size="33.26" fill="#000" style="font-style:italic;font-weight:bold;" textLength="14.20" lengthAdjust="spacingAndGlyphs">k</text><text x="648.70" y="1025.90" font-size="25.95" fill="#000" style="font-style:italic;" textLength="12.90" lengthAdjust="spacingAndGlyphs">x</text><text x="677.80" y="1021.00" font-size="37.79" fill="#000" style="" textLength="90.80" lengthAdjust="spacingAndGlyphs">(1/Å)</text><text x="934.90" y="930.20" font-size="22.68" fill="#000" style="" textLength="143.30" lengthAdjust="spacingAndGlyphs">Experiment</text><text x="1106.20" y="931.00" font-size="23.50" fill="#000" style="" textLength="142.30" lengthAdjust="spacingAndGlyphs">Calculation</text><text x="882.00" y="978.60" font-size="30.55" fill="#000" style="" textLength="67.30" lengthAdjust="spacingAndGlyphs">−1.0</text><text x="1226.50" y="978.60" font-size="30.55" fill="#000" style="" textLength="43.90" lengthAdjust="spacingAndGlyphs">1.0</text><text x="1029.30" y="1020.80" font-size="33.26" fill="#000" style="font-style:italic;font-weight:bold;" textLength="14.20" lengthAdjust="spacingAndGlyphs">k</text><text x="1048.20" y="1025.90" font-size="25.95" fill="#000" style="font-style:italic;" textLength="12.90" lengthAdjust="spacingAndGlyphs">x</text><text x="1077.30" y="1021.00" font-size="37.79" fill="#000" style="" textLength="90.80" lengthAdjust="spacingAndGlyphs">(1/Å)</text><text x="62.50" y="616.70" font-size="31.74" fill="#000" style="" textLength="43.00" lengthAdjust="spacingAndGlyphs">1.0</text><text x="62.50" y="777.60" font-size="30.42" fill="#000" style="" textLength="43.20" lengthAdjust="spacingAndGlyphs">0.0</text><text x="39.00" y="938.60" font-size="31.74" fill="#000" style="" textLength="67.30" lengthAdjust="spacingAndGlyphs">−1.0</text><text x="113.70" y="526.30" font-size="32.08" fill="#000" style="font-style:italic;" textLength="20.40" lengthAdjust="spacingAndGlyphs">A</text><text x="257.70" y="526.30" font-size="32.08" fill="#000" style="font-style:italic;" textLength="20.40" lengthAdjust="spacingAndGlyphs">A</text><text x="428.20" y="526.30" font-size="32.08" fill="#000" style="font-style:italic;" textLength="20.40" lengthAdjust="spacingAndGlyphs">A</text><text x="586.70" y="526.30" font-size="32.08" fill="#000" style="font-style:italic;" textLength="20.40" lengthAdjust="spacingAndGlyphs">A</text><text x="706.70" y="526.30" font-size="32.08" fill="#000" style="font-style:italic;" textLength="20.40" lengthAdjust="spacingAndGlyphs">A</text><text x="859.20" y="526.30" font-size="32.08" fill="#000" style="font-style:italic;" textLength="20.40" lengthAdjust="spacingAndGlyphs">A</text><text x="1017.30" y="526.30" font-size="32.08" fill="#000" style="font-style:italic;" textLength="20.40" lengthAdjust="spacingAndGlyphs">A</text><text x="1175.20" y="526.30" font-size="32.08" fill="#000" style="font-style:italic;" textLength="20.40" lengthAdjust="spacingAndGlyphs">A</text><text x="179.70" y="526.30" font-size="32.24" fill="#000" style="font-style:italic;" textLength="20.10" lengthAdjust="spacingAndGlyphs">Γ</text><text x="340.30" y="526.30" font-size="32.24" fill="#000" style="font-style:italic;" textLength="20.10" lengthAdjust="spacingAndGlyphs">Γ</text><text x="511.20" y="526.30" font-size="32.24" fill="#000" style="font-style:italic;" textLength="20.10" lengthAdjust="spacingAndGlyphs">Γ</text><text x="648.70" y="526.30" font-size="32.24" fill="#000" style="font-style:italic;" textLength="20.10" lengthAdjust="spacingAndGlyphs">Γ</text><text x="772.70" y="526.30" font-size="32.24" fill="#000" style="font-style:italic;" textLength="20.10" lengthAdjust="spacingAndGlyphs">Γ</text><text x="934.70" y="526.30" font-size="32.24" fill="#000" style="font-style:italic;" textLength="20.10" lengthAdjust="spacingAndGlyphs">Γ</text><text x="1096.20" y="526.30" font-size="32.24" fill="#000" style="font-style:italic;" textLength="20.10" lengthAdjust="spacingAndGlyphs">Γ</text><text x="1246.70" y="526.30" font-size="32.24" fill="#000" style="font-style:italic;" textLength="20.10" lengthAdjust="spacingAndGlyphs">Γ</text><line x1="114.8" y1="499.3" x2="134.5" y2="499.3" stroke="#000" stroke-width="1.45"/><line x1="258.8" y1="499.3" x2="278.5" y2="499.3" stroke="#000" stroke-width="1.45"/><line x1="429.3" y1="499.3" x2="449.0" y2="499.3" stroke="#000" stroke-width="1.45"/><line x1="587.8" y1="499.3" x2="607.5" y2="499.3" stroke="#000" stroke-width="1.45"/><line x1="707.8" y1="499.3" x2="727.5" y2="499.3" stroke="#000" stroke-width="1.45"/><line x1="860.3" y1="499.3" x2="880.0" y2="499.3" stroke="#000" stroke-width="1.45"/><line x1="1018.4" y1="499.3" x2="1038.1" y2="499.3" stroke="#000" stroke-width="1.45"/><line x1="1176.3" y1="499.3" x2="1196.0" y2="499.3" stroke="#000" stroke-width="1.45"/><line x1="184.5" y1="499.3" x2="203.7" y2="499.3" stroke="#000" stroke-width="1.45"/><line x1="345.1" y1="499.3" x2="364.3" y2="499.3" stroke="#000" stroke-width="1.45"/><line x1="516.0" y1="499.3" x2="535.2" y2="499.3" stroke="#000" stroke-width="1.45"/><line x1="653.5" y1="499.3" x2="672.7" y2="499.3" stroke="#000" stroke-width="1.45"/><line x1="777.5" y1="499.3" x2="796.7" y2="499.3" stroke="#000" stroke-width="1.45"/><line x1="939.5" y1="499.3" x2="958.7" y2="499.3" stroke="#000" stroke-width="1.45"/><line x1="1101.0" y1="499.3" x2="1120.2" y2="499.3" stroke="#000" stroke-width="1.45"/><line x1="1251.5" y1="499.3" x2="1270.7" y2="499.3" stroke="#000" stroke-width="1.45"/><text transform="translate(36.3,266.2) rotate(-90)" x="0" y="0" font-size="35" text-anchor="middle" textLength="337.5" lengthAdjust="spacingAndGlyphs">Binding energy (eV)</text><text transform="translate(30.6,831.2) rotate(-90)" font-size="33"><tspan x="0" style="font-style:italic;font-weight:bold">k</tspan><tspan x="19" dy="5" font-size="24" style="font-style:italic">z</tspan><tspan x="46" dy="-5" textLength="87.5" lengthAdjust="spacingAndGlyphs">(1/Å)</tspan></text><line x1="776.6" y1="109" x2="711.2" y2="477.3" stroke="#111" stroke-width="1.6" stroke-dasharray="6 4.5"/><line x1="797.6" y1="109" x2="862.4" y2="477.3" stroke="#111" stroke-width="1.6" stroke-dasharray="6 4.5"/><path d="M798.4,109.0 Q805.8,150.0 810.5,175.0 Q815.2,200.0 819.5,225.0 Q823.8,250.0 825.6,261.5 Q827.4,273.0 831.1,296.2 Q834.8,319.5 837.7,331.1 Q840.6,342.7 844.0,354.3 Q847.5,365.9 851.5,377.4 Q855.6,389.0 859.1,394.2 L862.6,399.5" fill="none" stroke="#d9381a" stroke-width="2.3" stroke-linecap="round" stroke-dasharray="0.1 5.2"/><path d="M824.2,252.0 Q829.9,275.0 834.2,298.2 Q838.4,321.5 841.3,333.1 Q844.2,344.7 847.6,356.3 Q851.1,367.9 855.1,379.4 Q859.2,391.0 862.7,396.2 L866.2,401.5" fill="none" stroke="#d9381a" stroke-width="2.1" stroke-linecap="round" stroke-dasharray="0.1 5.0"/><path d="M775.8,109.0 Q768.2,150.0 763.3,175.0 Q758.4,200.0 754.0,225.0 Q749.6,250.0 748.5,261.5 Q747.3,273.0 742.4,296.2 Q737.5,319.5 734.6,331.1 Q731.7,342.7 728.2,354.3 Q724.7,365.9 720.7,377.4 Q716.6,389.0 713.7,393.7 L710.8,398.4" fill="none" stroke="#d9381a" stroke-width="2.3" stroke-linecap="round" stroke-dasharray="0.1 5.2"/><path d="M749.2,252.0 Q744.8,275.0 739.3,298.2 Q733.9,321.5 731.0,333.1 Q728.1,344.7 724.6,356.3 Q721.1,367.9 717.0,379.4 Q713.0,391.0 710.1,395.7 L707.2,400.4" fill="none" stroke="#d9381a" stroke-width="2.1" stroke-linecap="round" stroke-dasharray="0.1 5.0"/><line x1="840.8" y1="221.9" x2="828" y2="227.3" stroke="#c0290f" stroke-width="1.3"/><path d="M825,228.1 L827.3,224.2 L828.2,227.0 L829.4,229.9 Z" fill="#c0290f"/><line x1="741.4" y1="417.6" x2="733.2" y2="407.8" stroke="#1a1a1a" stroke-width="1.3"/><path d="M731.4,406.0 L735.8,406.3 L733.4,408.2 L731.8,410.4 Z" fill="#1a1a1a"/><rect x="762.5" y="64" width="50.5" height="37.5" fill="none" stroke="#3f3688" stroke-width="2.6"/><text x="254" y="789" font-size="30" fill="#9a1f10" style="font-style:italic">Γ</text><line x1="258" y1="763.5" x2="277" y2="763.5" stroke="#9a1f10" stroke-width="1.4"/></svg></body></html>
